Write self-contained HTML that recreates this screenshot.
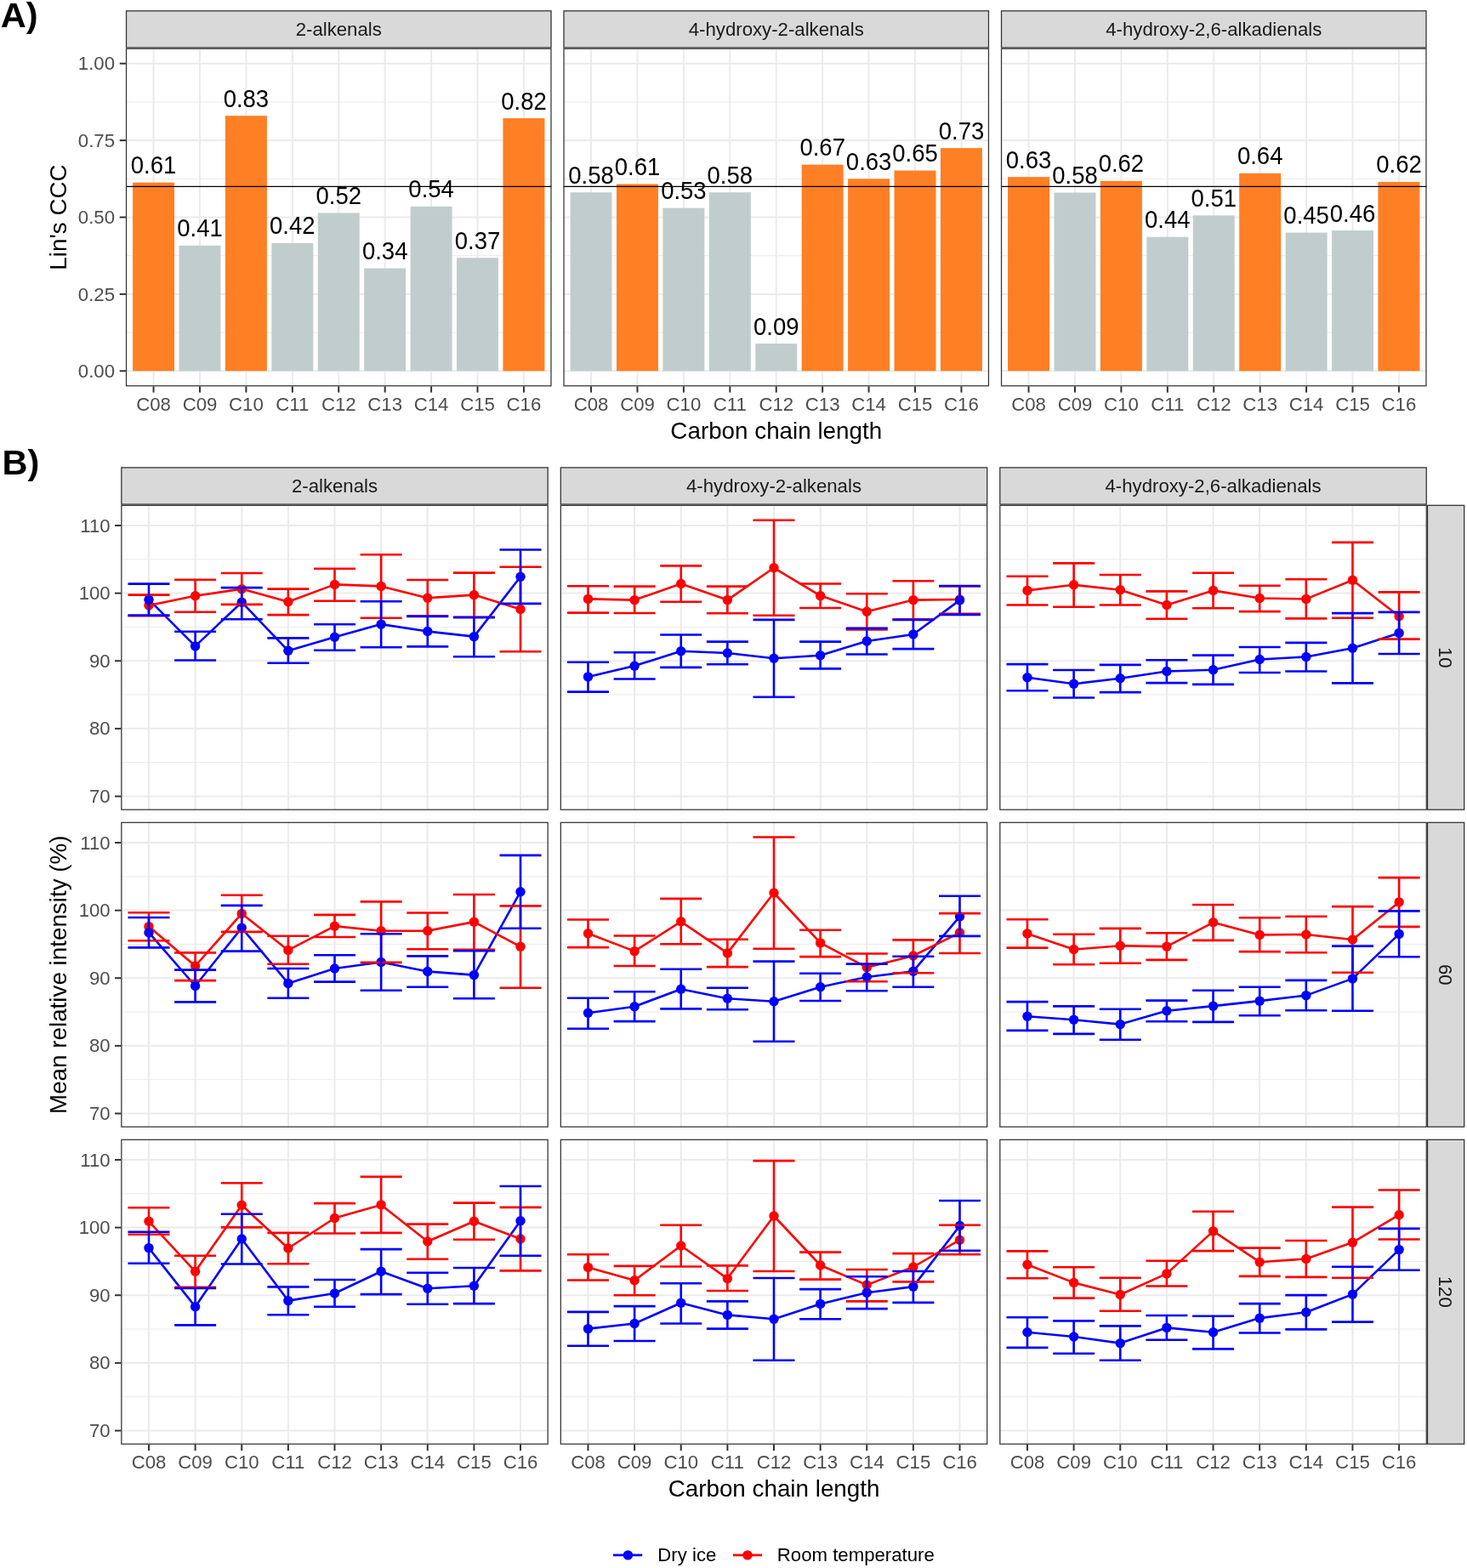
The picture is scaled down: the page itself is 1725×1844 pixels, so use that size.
<!DOCTYPE html>
<html><head><meta charset="utf-8"><title>Figure</title>
<style>html,body{margin:0;padding:0;background:#fff;}body{width:1725px;height:1844px;overflow:hidden;}svg{display:block;}</style>
</head><body>
<svg width="1725" height="1844" viewBox="0 0 1725 1844" font-family="'Liberation Sans', Arial, Helvetica, sans-serif"><rect x="0" y="0" width="1725" height="1844" fill="#FFFFFF"/><text transform="translate(0.80,31.70)" font-size="41.5" fill="#000" font-weight="bold">A)</text><line x1="147.9" x2="648.6" y1="391.10" y2="391.10" stroke="#EBEBEB" stroke-width="1.0"/><line x1="147.9" x2="648.6" y1="300.70" y2="300.70" stroke="#EBEBEB" stroke-width="1.0"/><line x1="147.9" x2="648.6" y1="210.30" y2="210.30" stroke="#EBEBEB" stroke-width="1.0"/><line x1="147.9" x2="648.6" y1="119.90" y2="119.90" stroke="#EBEBEB" stroke-width="1.0"/><line x1="147.9" x2="648.6" y1="436.30" y2="436.30" stroke="#EBEBEB" stroke-width="2.0"/><line x1="147.9" x2="648.6" y1="345.90" y2="345.90" stroke="#EBEBEB" stroke-width="2.0"/><line x1="147.9" x2="648.6" y1="255.50" y2="255.50" stroke="#EBEBEB" stroke-width="2.0"/><line x1="147.9" x2="648.6" y1="165.10" y2="165.10" stroke="#EBEBEB" stroke-width="2.0"/><line x1="147.9" x2="648.6" y1="74.70" y2="74.70" stroke="#EBEBEB" stroke-width="2.0"/><line x1="180.55" x2="180.55" y1="56.6" y2="454.4" stroke="#EBEBEB" stroke-width="2.0"/><line x1="234.98" x2="234.98" y1="56.6" y2="454.4" stroke="#EBEBEB" stroke-width="2.0"/><line x1="289.40" x2="289.40" y1="56.6" y2="454.4" stroke="#EBEBEB" stroke-width="2.0"/><line x1="343.83" x2="343.83" y1="56.6" y2="454.4" stroke="#EBEBEB" stroke-width="2.0"/><line x1="398.25" x2="398.25" y1="56.6" y2="454.4" stroke="#EBEBEB" stroke-width="2.0"/><line x1="452.67" x2="452.67" y1="56.6" y2="454.4" stroke="#EBEBEB" stroke-width="2.0"/><line x1="507.10" x2="507.10" y1="56.6" y2="454.4" stroke="#EBEBEB" stroke-width="2.0"/><line x1="561.52" x2="561.52" y1="56.6" y2="454.4" stroke="#EBEBEB" stroke-width="2.0"/><line x1="615.95" x2="615.95" y1="56.6" y2="454.4" stroke="#EBEBEB" stroke-width="2.0"/><rect x="156.06" y="214.64" width="48.98" height="221.66" fill="#FF7F24"/><rect x="210.49" y="288.77" width="48.98" height="147.53" fill="#C1CDCD"/><rect x="264.91" y="136.17" width="48.98" height="300.13" fill="#FF7F24"/><rect x="319.34" y="285.87" width="48.98" height="150.43" fill="#C1CDCD"/><rect x="373.76" y="250.44" width="48.98" height="185.86" fill="#C1CDCD"/><rect x="428.18" y="315.53" width="48.98" height="120.77" fill="#C1CDCD"/><rect x="482.61" y="242.84" width="48.98" height="193.46" fill="#C1CDCD"/><rect x="537.03" y="303.23" width="48.98" height="133.07" fill="#C1CDCD"/><rect x="591.45" y="139.06" width="48.98" height="297.24" fill="#FF7F24"/><line x1="147.9" x2="648.6" y1="219.34" y2="219.34" stroke="#000" stroke-width="1.1"/><text transform="translate(180.55,204.14) scale(1,1.06)" font-size="27.5" text-anchor="middle" fill="#000">0.61</text><text transform="translate(234.98,278.27) scale(1,1.06)" font-size="27.5" text-anchor="middle" fill="#000">0.41</text><text transform="translate(289.40,125.67) scale(1,1.06)" font-size="27.5" text-anchor="middle" fill="#000">0.83</text><text transform="translate(343.83,275.37) scale(1,1.06)" font-size="27.5" text-anchor="middle" fill="#000">0.42</text><text transform="translate(398.25,239.94) scale(1,1.06)" font-size="27.5" text-anchor="middle" fill="#000">0.52</text><text transform="translate(452.67,305.03) scale(1,1.06)" font-size="27.5" text-anchor="middle" fill="#000">0.34</text><text transform="translate(507.10,232.34) scale(1,1.06)" font-size="27.5" text-anchor="middle" fill="#000">0.54</text><text transform="translate(561.52,292.73) scale(1,1.06)" font-size="27.5" text-anchor="middle" fill="#000">0.37</text><text transform="translate(615.95,128.56) scale(1,1.06)" font-size="27.5" text-anchor="middle" fill="#000">0.82</text><rect x="148.53" y="57.23" width="499.45" height="396.55" fill="none" stroke="#333333" stroke-width="1.25"/><rect x="147.90" y="12.20" width="500.70" height="44.40" fill="#D9D9D9"/><rect x="148.53" y="12.82" width="499.45" height="43.15" fill="none" stroke="#333333" stroke-width="1.25"/><text transform="translate(398.25,41.80)" font-size="22.2" text-anchor="middle" fill="#1A1A1A">2-alkenals</text><line x1="180.55" x2="180.55" y1="454.40" y2="461.60" stroke="#333333" stroke-width="2.0"/><text transform="translate(180.55,482.70) scale(1,1.03)" font-size="22.2" text-anchor="middle" fill="#4D4D4D">C08</text><line x1="234.98" x2="234.98" y1="454.40" y2="461.60" stroke="#333333" stroke-width="2.0"/><text transform="translate(234.98,482.70) scale(1,1.03)" font-size="22.2" text-anchor="middle" fill="#4D4D4D">C09</text><line x1="289.40" x2="289.40" y1="454.40" y2="461.60" stroke="#333333" stroke-width="2.0"/><text transform="translate(289.40,482.70) scale(1,1.03)" font-size="22.2" text-anchor="middle" fill="#4D4D4D">C10</text><line x1="343.83" x2="343.83" y1="454.40" y2="461.60" stroke="#333333" stroke-width="2.0"/><text transform="translate(343.83,482.70) scale(1,1.03)" font-size="22.2" text-anchor="middle" fill="#4D4D4D">C11</text><line x1="398.25" x2="398.25" y1="454.40" y2="461.60" stroke="#333333" stroke-width="2.0"/><text transform="translate(398.25,482.70) scale(1,1.03)" font-size="22.2" text-anchor="middle" fill="#4D4D4D">C12</text><line x1="452.67" x2="452.67" y1="454.40" y2="461.60" stroke="#333333" stroke-width="2.0"/><text transform="translate(452.67,482.70) scale(1,1.03)" font-size="22.2" text-anchor="middle" fill="#4D4D4D">C13</text><line x1="507.10" x2="507.10" y1="454.40" y2="461.60" stroke="#333333" stroke-width="2.0"/><text transform="translate(507.10,482.70) scale(1,1.03)" font-size="22.2" text-anchor="middle" fill="#4D4D4D">C14</text><line x1="561.52" x2="561.52" y1="454.40" y2="461.60" stroke="#333333" stroke-width="2.0"/><text transform="translate(561.52,482.70) scale(1,1.03)" font-size="22.2" text-anchor="middle" fill="#4D4D4D">C15</text><line x1="615.95" x2="615.95" y1="454.40" y2="461.60" stroke="#333333" stroke-width="2.0"/><text transform="translate(615.95,482.70) scale(1,1.03)" font-size="22.2" text-anchor="middle" fill="#4D4D4D">C16</text><line x1="662.4" x2="1163.1" y1="391.10" y2="391.10" stroke="#EBEBEB" stroke-width="1.0"/><line x1="662.4" x2="1163.1" y1="300.70" y2="300.70" stroke="#EBEBEB" stroke-width="1.0"/><line x1="662.4" x2="1163.1" y1="210.30" y2="210.30" stroke="#EBEBEB" stroke-width="1.0"/><line x1="662.4" x2="1163.1" y1="119.90" y2="119.90" stroke="#EBEBEB" stroke-width="1.0"/><line x1="662.4" x2="1163.1" y1="436.30" y2="436.30" stroke="#EBEBEB" stroke-width="2.0"/><line x1="662.4" x2="1163.1" y1="345.90" y2="345.90" stroke="#EBEBEB" stroke-width="2.0"/><line x1="662.4" x2="1163.1" y1="255.50" y2="255.50" stroke="#EBEBEB" stroke-width="2.0"/><line x1="662.4" x2="1163.1" y1="165.10" y2="165.10" stroke="#EBEBEB" stroke-width="2.0"/><line x1="662.4" x2="1163.1" y1="74.70" y2="74.70" stroke="#EBEBEB" stroke-width="2.0"/><line x1="695.05" x2="695.05" y1="56.6" y2="454.4" stroke="#EBEBEB" stroke-width="2.0"/><line x1="749.48" x2="749.48" y1="56.6" y2="454.4" stroke="#EBEBEB" stroke-width="2.0"/><line x1="803.90" x2="803.90" y1="56.6" y2="454.4" stroke="#EBEBEB" stroke-width="2.0"/><line x1="858.33" x2="858.33" y1="56.6" y2="454.4" stroke="#EBEBEB" stroke-width="2.0"/><line x1="912.75" x2="912.75" y1="56.6" y2="454.4" stroke="#EBEBEB" stroke-width="2.0"/><line x1="967.17" x2="967.17" y1="56.6" y2="454.4" stroke="#EBEBEB" stroke-width="2.0"/><line x1="1021.60" x2="1021.60" y1="56.6" y2="454.4" stroke="#EBEBEB" stroke-width="2.0"/><line x1="1076.02" x2="1076.02" y1="56.6" y2="454.4" stroke="#EBEBEB" stroke-width="2.0"/><line x1="1130.45" x2="1130.45" y1="56.6" y2="454.4" stroke="#EBEBEB" stroke-width="2.0"/><rect x="670.56" y="226.21" width="48.98" height="210.09" fill="#C1CDCD"/><rect x="724.99" y="216.45" width="48.98" height="219.85" fill="#FF7F24"/><rect x="779.41" y="244.65" width="48.98" height="191.65" fill="#C1CDCD"/><rect x="833.84" y="226.21" width="48.98" height="210.09" fill="#C1CDCD"/><rect x="888.26" y="404.12" width="48.98" height="32.18" fill="#C1CDCD"/><rect x="942.68" y="193.67" width="48.98" height="242.63" fill="#FF7F24"/><rect x="997.11" y="210.30" width="48.98" height="226.00" fill="#FF7F24"/><rect x="1051.53" y="200.54" width="48.98" height="235.76" fill="#FF7F24"/><rect x="1105.95" y="174.14" width="48.98" height="262.16" fill="#FF7F24"/><line x1="662.4" x2="1163.1" y1="219.34" y2="219.34" stroke="#000" stroke-width="1.1"/><text transform="translate(695.05,215.71) scale(1,1.06)" font-size="27.5" text-anchor="middle" fill="#000">0.58</text><text transform="translate(749.48,205.95) scale(1,1.06)" font-size="27.5" text-anchor="middle" fill="#000">0.61</text><text transform="translate(803.90,234.15) scale(1,1.06)" font-size="27.5" text-anchor="middle" fill="#000">0.53</text><text transform="translate(858.33,215.71) scale(1,1.06)" font-size="27.5" text-anchor="middle" fill="#000">0.58</text><text transform="translate(912.75,393.62) scale(1,1.06)" font-size="27.5" text-anchor="middle" fill="#000">0.09</text><text transform="translate(967.17,183.17) scale(1,1.06)" font-size="27.5" text-anchor="middle" fill="#000">0.67</text><text transform="translate(1021.60,199.80) scale(1,1.06)" font-size="27.5" text-anchor="middle" fill="#000">0.63</text><text transform="translate(1076.02,190.04) scale(1,1.06)" font-size="27.5" text-anchor="middle" fill="#000">0.65</text><text transform="translate(1130.45,163.64) scale(1,1.06)" font-size="27.5" text-anchor="middle" fill="#000">0.73</text><rect x="663.02" y="57.23" width="499.45" height="396.55" fill="none" stroke="#333333" stroke-width="1.25"/><rect x="662.40" y="12.20" width="500.70" height="44.40" fill="#D9D9D9"/><rect x="663.02" y="12.82" width="499.45" height="43.15" fill="none" stroke="#333333" stroke-width="1.25"/><text transform="translate(912.75,41.80)" font-size="22.2" text-anchor="middle" fill="#1A1A1A">4-hydroxy-2-alkenals</text><line x1="695.05" x2="695.05" y1="454.40" y2="461.60" stroke="#333333" stroke-width="2.0"/><text transform="translate(695.05,482.70) scale(1,1.03)" font-size="22.2" text-anchor="middle" fill="#4D4D4D">C08</text><line x1="749.48" x2="749.48" y1="454.40" y2="461.60" stroke="#333333" stroke-width="2.0"/><text transform="translate(749.48,482.70) scale(1,1.03)" font-size="22.2" text-anchor="middle" fill="#4D4D4D">C09</text><line x1="803.90" x2="803.90" y1="454.40" y2="461.60" stroke="#333333" stroke-width="2.0"/><text transform="translate(803.90,482.70) scale(1,1.03)" font-size="22.2" text-anchor="middle" fill="#4D4D4D">C10</text><line x1="858.33" x2="858.33" y1="454.40" y2="461.60" stroke="#333333" stroke-width="2.0"/><text transform="translate(858.33,482.70) scale(1,1.03)" font-size="22.2" text-anchor="middle" fill="#4D4D4D">C11</text><line x1="912.75" x2="912.75" y1="454.40" y2="461.60" stroke="#333333" stroke-width="2.0"/><text transform="translate(912.75,482.70) scale(1,1.03)" font-size="22.2" text-anchor="middle" fill="#4D4D4D">C12</text><line x1="967.17" x2="967.17" y1="454.40" y2="461.60" stroke="#333333" stroke-width="2.0"/><text transform="translate(967.17,482.70) scale(1,1.03)" font-size="22.2" text-anchor="middle" fill="#4D4D4D">C13</text><line x1="1021.60" x2="1021.60" y1="454.40" y2="461.60" stroke="#333333" stroke-width="2.0"/><text transform="translate(1021.60,482.70) scale(1,1.03)" font-size="22.2" text-anchor="middle" fill="#4D4D4D">C14</text><line x1="1076.02" x2="1076.02" y1="454.40" y2="461.60" stroke="#333333" stroke-width="2.0"/><text transform="translate(1076.02,482.70) scale(1,1.03)" font-size="22.2" text-anchor="middle" fill="#4D4D4D">C15</text><line x1="1130.45" x2="1130.45" y1="454.40" y2="461.60" stroke="#333333" stroke-width="2.0"/><text transform="translate(1130.45,482.70) scale(1,1.03)" font-size="22.2" text-anchor="middle" fill="#4D4D4D">C16</text><line x1="1176.9" x2="1677.6" y1="391.10" y2="391.10" stroke="#EBEBEB" stroke-width="1.0"/><line x1="1176.9" x2="1677.6" y1="300.70" y2="300.70" stroke="#EBEBEB" stroke-width="1.0"/><line x1="1176.9" x2="1677.6" y1="210.30" y2="210.30" stroke="#EBEBEB" stroke-width="1.0"/><line x1="1176.9" x2="1677.6" y1="119.90" y2="119.90" stroke="#EBEBEB" stroke-width="1.0"/><line x1="1176.9" x2="1677.6" y1="436.30" y2="436.30" stroke="#EBEBEB" stroke-width="2.0"/><line x1="1176.9" x2="1677.6" y1="345.90" y2="345.90" stroke="#EBEBEB" stroke-width="2.0"/><line x1="1176.9" x2="1677.6" y1="255.50" y2="255.50" stroke="#EBEBEB" stroke-width="2.0"/><line x1="1176.9" x2="1677.6" y1="165.10" y2="165.10" stroke="#EBEBEB" stroke-width="2.0"/><line x1="1176.9" x2="1677.6" y1="74.70" y2="74.70" stroke="#EBEBEB" stroke-width="2.0"/><line x1="1209.55" x2="1209.55" y1="56.6" y2="454.4" stroke="#EBEBEB" stroke-width="2.0"/><line x1="1263.98" x2="1263.98" y1="56.6" y2="454.4" stroke="#EBEBEB" stroke-width="2.0"/><line x1="1318.40" x2="1318.40" y1="56.6" y2="454.4" stroke="#EBEBEB" stroke-width="2.0"/><line x1="1372.83" x2="1372.83" y1="56.6" y2="454.4" stroke="#EBEBEB" stroke-width="2.0"/><line x1="1427.25" x2="1427.25" y1="56.6" y2="454.4" stroke="#EBEBEB" stroke-width="2.0"/><line x1="1481.67" x2="1481.67" y1="56.6" y2="454.4" stroke="#EBEBEB" stroke-width="2.0"/><line x1="1536.10" x2="1536.10" y1="56.6" y2="454.4" stroke="#EBEBEB" stroke-width="2.0"/><line x1="1590.52" x2="1590.52" y1="56.6" y2="454.4" stroke="#EBEBEB" stroke-width="2.0"/><line x1="1644.95" x2="1644.95" y1="56.6" y2="454.4" stroke="#EBEBEB" stroke-width="2.0"/><rect x="1185.06" y="208.13" width="48.98" height="228.17" fill="#FF7F24"/><rect x="1239.49" y="226.57" width="48.98" height="209.73" fill="#C1CDCD"/><rect x="1293.91" y="212.83" width="48.98" height="223.47" fill="#FF7F24"/><rect x="1348.34" y="278.64" width="48.98" height="157.66" fill="#C1CDCD"/><rect x="1402.76" y="253.33" width="48.98" height="182.97" fill="#C1CDCD"/><rect x="1457.18" y="203.79" width="48.98" height="232.51" fill="#FF7F24"/><rect x="1511.61" y="273.58" width="48.98" height="162.72" fill="#C1CDCD"/><rect x="1566.03" y="271.05" width="48.98" height="165.25" fill="#C1CDCD"/><rect x="1620.45" y="213.92" width="48.98" height="222.38" fill="#FF7F24"/><line x1="1176.9" x2="1677.6" y1="219.34" y2="219.34" stroke="#000" stroke-width="1.1"/><text transform="translate(1209.55,197.63) scale(1,1.06)" font-size="27.5" text-anchor="middle" fill="#000">0.63</text><text transform="translate(1263.98,216.07) scale(1,1.06)" font-size="27.5" text-anchor="middle" fill="#000">0.58</text><text transform="translate(1318.40,202.33) scale(1,1.06)" font-size="27.5" text-anchor="middle" fill="#000">0.62</text><text transform="translate(1372.83,268.14) scale(1,1.06)" font-size="27.5" text-anchor="middle" fill="#000">0.44</text><text transform="translate(1427.25,242.83) scale(1,1.06)" font-size="27.5" text-anchor="middle" fill="#000">0.51</text><text transform="translate(1481.67,193.29) scale(1,1.06)" font-size="27.5" text-anchor="middle" fill="#000">0.64</text><text transform="translate(1536.10,263.08) scale(1,1.06)" font-size="27.5" text-anchor="middle" fill="#000">0.45</text><text transform="translate(1590.52,260.55) scale(1,1.06)" font-size="27.5" text-anchor="middle" fill="#000">0.46</text><text transform="translate(1644.95,203.42) scale(1,1.06)" font-size="27.5" text-anchor="middle" fill="#000">0.62</text><rect x="1177.53" y="57.23" width="499.45" height="396.55" fill="none" stroke="#333333" stroke-width="1.25"/><rect x="1176.90" y="12.20" width="500.70" height="44.40" fill="#D9D9D9"/><rect x="1177.53" y="12.82" width="499.45" height="43.15" fill="none" stroke="#333333" stroke-width="1.25"/><text transform="translate(1427.25,41.80)" font-size="22.2" text-anchor="middle" fill="#1A1A1A">4-hydroxy-2,6-alkadienals</text><line x1="1209.55" x2="1209.55" y1="454.40" y2="461.60" stroke="#333333" stroke-width="2.0"/><text transform="translate(1209.55,482.70) scale(1,1.03)" font-size="22.2" text-anchor="middle" fill="#4D4D4D">C08</text><line x1="1263.98" x2="1263.98" y1="454.40" y2="461.60" stroke="#333333" stroke-width="2.0"/><text transform="translate(1263.98,482.70) scale(1,1.03)" font-size="22.2" text-anchor="middle" fill="#4D4D4D">C09</text><line x1="1318.40" x2="1318.40" y1="454.40" y2="461.60" stroke="#333333" stroke-width="2.0"/><text transform="translate(1318.40,482.70) scale(1,1.03)" font-size="22.2" text-anchor="middle" fill="#4D4D4D">C10</text><line x1="1372.83" x2="1372.83" y1="454.40" y2="461.60" stroke="#333333" stroke-width="2.0"/><text transform="translate(1372.83,482.70) scale(1,1.03)" font-size="22.2" text-anchor="middle" fill="#4D4D4D">C11</text><line x1="1427.25" x2="1427.25" y1="454.40" y2="461.60" stroke="#333333" stroke-width="2.0"/><text transform="translate(1427.25,482.70) scale(1,1.03)" font-size="22.2" text-anchor="middle" fill="#4D4D4D">C12</text><line x1="1481.67" x2="1481.67" y1="454.40" y2="461.60" stroke="#333333" stroke-width="2.0"/><text transform="translate(1481.67,482.70) scale(1,1.03)" font-size="22.2" text-anchor="middle" fill="#4D4D4D">C13</text><line x1="1536.10" x2="1536.10" y1="454.40" y2="461.60" stroke="#333333" stroke-width="2.0"/><text transform="translate(1536.10,482.70) scale(1,1.03)" font-size="22.2" text-anchor="middle" fill="#4D4D4D">C14</text><line x1="1590.52" x2="1590.52" y1="454.40" y2="461.60" stroke="#333333" stroke-width="2.0"/><text transform="translate(1590.52,482.70) scale(1,1.03)" font-size="22.2" text-anchor="middle" fill="#4D4D4D">C15</text><line x1="1644.95" x2="1644.95" y1="454.40" y2="461.60" stroke="#333333" stroke-width="2.0"/><text transform="translate(1644.95,482.70) scale(1,1.03)" font-size="22.2" text-anchor="middle" fill="#4D4D4D">C16</text><line x1="140.70" x2="147.90" y1="436.30" y2="436.30" stroke="#333333" stroke-width="2.0"/><text transform="translate(135.00,443.90)" font-size="22.2" text-anchor="end" fill="#4D4D4D">0.00</text><line x1="140.70" x2="147.90" y1="345.90" y2="345.90" stroke="#333333" stroke-width="2.0"/><text transform="translate(135.00,353.50)" font-size="22.2" text-anchor="end" fill="#4D4D4D">0.25</text><line x1="140.70" x2="147.90" y1="255.50" y2="255.50" stroke="#333333" stroke-width="2.0"/><text transform="translate(135.00,263.10)" font-size="22.2" text-anchor="end" fill="#4D4D4D">0.50</text><line x1="140.70" x2="147.90" y1="165.10" y2="165.10" stroke="#333333" stroke-width="2.0"/><text transform="translate(135.00,172.70)" font-size="22.2" text-anchor="end" fill="#4D4D4D">0.75</text><line x1="140.70" x2="147.90" y1="74.70" y2="74.70" stroke="#333333" stroke-width="2.0"/><text transform="translate(135.00,82.30)" font-size="22.2" text-anchor="end" fill="#4D4D4D">1.00</text><text transform="translate(78.10,255.50) rotate(-90)" font-size="27.8" text-anchor="middle" fill="#000">Lin's CCC</text><text transform="translate(912.75,515.80)" font-size="27.8" text-anchor="middle" fill="#000">Carbon chain length</text><text transform="translate(2.50,558.30)" font-size="41.5" fill="#000" font-weight="bold">B)</text><line x1="142.2" x2="644.8" y1="896.68" y2="896.68" stroke="#EBEBEB" stroke-width="1.0"/><line x1="142.2" x2="644.8" y1="817.05" y2="817.05" stroke="#EBEBEB" stroke-width="1.0"/><line x1="142.2" x2="644.8" y1="737.43" y2="737.43" stroke="#EBEBEB" stroke-width="1.0"/><line x1="142.2" x2="644.8" y1="657.80" y2="657.80" stroke="#EBEBEB" stroke-width="1.0"/><line x1="142.2" x2="644.8" y1="936.49" y2="936.49" stroke="#EBEBEB" stroke-width="2.0"/><line x1="142.2" x2="644.8" y1="856.87" y2="856.87" stroke="#EBEBEB" stroke-width="2.0"/><line x1="142.2" x2="644.8" y1="777.24" y2="777.24" stroke="#EBEBEB" stroke-width="2.0"/><line x1="142.2" x2="644.8" y1="697.62" y2="697.62" stroke="#EBEBEB" stroke-width="2.0"/><line x1="142.2" x2="644.8" y1="617.99" y2="617.99" stroke="#EBEBEB" stroke-width="2.0"/><line x1="174.98" x2="174.98" y1="593.7" y2="952.8" stroke="#EBEBEB" stroke-width="2.0"/><line x1="229.61" x2="229.61" y1="593.7" y2="952.8" stroke="#EBEBEB" stroke-width="2.0"/><line x1="284.24" x2="284.24" y1="593.7" y2="952.8" stroke="#EBEBEB" stroke-width="2.0"/><line x1="338.87" x2="338.87" y1="593.7" y2="952.8" stroke="#EBEBEB" stroke-width="2.0"/><line x1="393.50" x2="393.50" y1="593.7" y2="952.8" stroke="#EBEBEB" stroke-width="2.0"/><line x1="448.13" x2="448.13" y1="593.7" y2="952.8" stroke="#EBEBEB" stroke-width="2.0"/><line x1="502.76" x2="502.76" y1="593.7" y2="952.8" stroke="#EBEBEB" stroke-width="2.0"/><line x1="557.39" x2="557.39" y1="593.7" y2="952.8" stroke="#EBEBEB" stroke-width="2.0"/><line x1="612.02" x2="612.02" y1="593.7" y2="952.8" stroke="#EBEBEB" stroke-width="2.0"/><polyline points="174.98,705.20 229.61,759.90 284.24,708.20 338.87,765.30 393.50,749.20 448.13,734.10 502.76,742.50 557.39,748.60 612.02,678.20" fill="none" stroke="#0000FF" stroke-width="2.6" stroke-linejoin="round"/><polyline points="174.98,711.90 229.61,700.80 284.24,692.60 338.87,707.80 393.50,687.40 448.13,689.40 502.76,703.20 557.39,699.60 612.02,716.50" fill="none" stroke="#FF0000" stroke-width="2.6" stroke-linejoin="round"/><circle cx="174.98" cy="711.90" r="5.7" fill="#FF0000"/><circle cx="229.61" cy="700.80" r="5.7" fill="#FF0000"/><circle cx="284.24" cy="692.60" r="5.7" fill="#FF0000"/><circle cx="338.87" cy="707.80" r="5.7" fill="#FF0000"/><circle cx="393.50" cy="687.40" r="5.7" fill="#FF0000"/><circle cx="448.13" cy="689.40" r="5.7" fill="#FF0000"/><circle cx="502.76" cy="703.20" r="5.7" fill="#FF0000"/><circle cx="557.39" cy="699.60" r="5.7" fill="#FF0000"/><circle cx="612.02" cy="716.50" r="5.7" fill="#FF0000"/><circle cx="174.98" cy="705.20" r="5.7" fill="#0000FF"/><circle cx="229.61" cy="759.90" r="5.7" fill="#0000FF"/><circle cx="284.24" cy="708.20" r="5.7" fill="#0000FF"/><circle cx="338.87" cy="765.30" r="5.7" fill="#0000FF"/><circle cx="393.50" cy="749.20" r="5.7" fill="#0000FF"/><circle cx="448.13" cy="734.10" r="5.7" fill="#0000FF"/><circle cx="502.76" cy="742.50" r="5.7" fill="#0000FF"/><circle cx="557.39" cy="748.60" r="5.7" fill="#0000FF"/><circle cx="612.02" cy="678.20" r="5.7" fill="#0000FF"/><path d="M150.48 699.60H199.48M174.98 699.60V724.20M150.48 724.20H199.48M205.11 681.80H254.11M229.61 681.80V719.80M205.11 719.80H254.11M259.74 674.00H308.74M284.24 674.00V710.90M259.74 710.90H308.74M314.37 692.60H363.37M338.87 692.60V723.10M314.37 723.10H363.37M369.00 668.70H418.00M393.50 668.70V706.70M369.00 706.70H418.00M423.63 652.20H472.63M448.13 652.20V726.70M423.63 726.70H472.63M478.26 682.00H527.26M502.76 682.00V724.40M478.26 724.40H527.26M532.89 673.60H581.89M557.39 673.60V725.70M532.89 725.70H581.89M587.52 666.70H636.52M612.02 666.70V766.20M587.52 766.20H636.52" fill="none" stroke="#FF0000" stroke-width="2.6"/><path d="M150.48 686.60H199.48M174.98 686.60V723.60M150.48 723.60H199.48M205.11 742.80H254.11M229.61 742.80V776.50M205.11 776.50H254.11M259.74 691.10H308.74M284.24 691.10V728.30M259.74 728.30H308.74M314.37 750.40H363.37M338.87 750.40V779.70M314.37 779.70H363.37M369.00 734.30H418.00M393.50 734.30V764.80M369.00 764.80H418.00M423.63 707.30H472.63M448.13 707.30V761.30M423.63 761.30H472.63M478.26 724.90H527.26M502.76 724.90V760.40M478.26 760.40H527.26M532.89 726.10H581.89M557.39 726.10V772.30M532.89 772.30H581.89M587.52 646.50H636.52M612.02 646.50V709.90M587.52 709.90H636.52" fill="none" stroke="#0000FF" stroke-width="2.6"/><rect x="142.82" y="594.33" width="501.35" height="357.85" fill="none" stroke="#333333" stroke-width="1.25"/><rect x="142.20" y="549.30" width="502.60" height="44.40" fill="#D9D9D9"/><rect x="142.82" y="549.92" width="501.35" height="43.15" fill="none" stroke="#333333" stroke-width="1.25"/><text transform="translate(393.50,578.90)" font-size="22.2" text-anchor="middle" fill="#1A1A1A">2-alkenals</text><line x1="658.7" x2="1161.3" y1="896.68" y2="896.68" stroke="#EBEBEB" stroke-width="1.0"/><line x1="658.7" x2="1161.3" y1="817.05" y2="817.05" stroke="#EBEBEB" stroke-width="1.0"/><line x1="658.7" x2="1161.3" y1="737.43" y2="737.43" stroke="#EBEBEB" stroke-width="1.0"/><line x1="658.7" x2="1161.3" y1="657.80" y2="657.80" stroke="#EBEBEB" stroke-width="1.0"/><line x1="658.7" x2="1161.3" y1="936.49" y2="936.49" stroke="#EBEBEB" stroke-width="2.0"/><line x1="658.7" x2="1161.3" y1="856.87" y2="856.87" stroke="#EBEBEB" stroke-width="2.0"/><line x1="658.7" x2="1161.3" y1="777.24" y2="777.24" stroke="#EBEBEB" stroke-width="2.0"/><line x1="658.7" x2="1161.3" y1="697.62" y2="697.62" stroke="#EBEBEB" stroke-width="2.0"/><line x1="658.7" x2="1161.3" y1="617.99" y2="617.99" stroke="#EBEBEB" stroke-width="2.0"/><line x1="691.48" x2="691.48" y1="593.7" y2="952.8" stroke="#EBEBEB" stroke-width="2.0"/><line x1="746.11" x2="746.11" y1="593.7" y2="952.8" stroke="#EBEBEB" stroke-width="2.0"/><line x1="800.74" x2="800.74" y1="593.7" y2="952.8" stroke="#EBEBEB" stroke-width="2.0"/><line x1="855.37" x2="855.37" y1="593.7" y2="952.8" stroke="#EBEBEB" stroke-width="2.0"/><line x1="910.00" x2="910.00" y1="593.7" y2="952.8" stroke="#EBEBEB" stroke-width="2.0"/><line x1="964.63" x2="964.63" y1="593.7" y2="952.8" stroke="#EBEBEB" stroke-width="2.0"/><line x1="1019.26" x2="1019.26" y1="593.7" y2="952.8" stroke="#EBEBEB" stroke-width="2.0"/><line x1="1073.89" x2="1073.89" y1="593.7" y2="952.8" stroke="#EBEBEB" stroke-width="2.0"/><line x1="1128.52" x2="1128.52" y1="593.7" y2="952.8" stroke="#EBEBEB" stroke-width="2.0"/><polyline points="691.48,795.90 746.11,783.10 800.74,765.70 855.37,768.00 910.00,774.30 964.63,770.70 1019.26,754.00 1073.89,746.00 1128.52,705.90" fill="none" stroke="#0000FF" stroke-width="2.6" stroke-linejoin="round"/><polyline points="691.48,704.40 746.11,705.60 800.74,686.50 855.37,705.60 910.00,667.80 964.63,700.60 1019.26,719.20 1073.89,705.60 1128.52,705.00" fill="none" stroke="#FF0000" stroke-width="2.6" stroke-linejoin="round"/><circle cx="691.48" cy="704.40" r="5.7" fill="#FF0000"/><circle cx="746.11" cy="705.60" r="5.7" fill="#FF0000"/><circle cx="800.74" cy="686.50" r="5.7" fill="#FF0000"/><circle cx="855.37" cy="705.60" r="5.7" fill="#FF0000"/><circle cx="910.00" cy="667.80" r="5.7" fill="#FF0000"/><circle cx="964.63" cy="700.60" r="5.7" fill="#FF0000"/><circle cx="1019.26" cy="719.20" r="5.7" fill="#FF0000"/><circle cx="1073.89" cy="705.60" r="5.7" fill="#FF0000"/><circle cx="1128.52" cy="705.00" r="5.7" fill="#FF0000"/><circle cx="691.48" cy="795.90" r="5.7" fill="#0000FF"/><circle cx="746.11" cy="783.10" r="5.7" fill="#0000FF"/><circle cx="800.74" cy="765.70" r="5.7" fill="#0000FF"/><circle cx="855.37" cy="768.00" r="5.7" fill="#0000FF"/><circle cx="910.00" cy="774.30" r="5.7" fill="#0000FF"/><circle cx="964.63" cy="770.70" r="5.7" fill="#0000FF"/><circle cx="1019.26" cy="754.00" r="5.7" fill="#0000FF"/><circle cx="1073.89" cy="746.00" r="5.7" fill="#0000FF"/><circle cx="1128.52" cy="705.90" r="5.7" fill="#0000FF"/><path d="M666.98 689.30H715.98M691.48 689.30V720.60M666.98 720.60H715.98M721.61 689.60H770.61M746.11 689.60V721.00M721.61 721.00H770.61M776.24 665.40H825.24M800.74 665.40V707.70M776.24 707.70H825.24M830.87 689.60H879.87M855.37 689.60V721.30M830.87 721.30H879.87M885.50 611.80H934.50M910.00 611.80V723.80M885.50 723.80H934.50M940.13 686.50H989.13M964.63 686.50V715.00M940.13 715.00H989.13M994.76 698.30H1043.76M1019.26 698.30V740.40M994.76 740.40H1043.76M1049.39 683.20H1098.39M1073.89 683.20V728.30M1049.39 728.30H1098.39M1104.02 689.50H1153.02M1128.52 689.50V721.80M1104.02 721.80H1153.02" fill="none" stroke="#FF0000" stroke-width="2.6"/><path d="M666.98 778.80H715.98M691.48 778.80V813.60M666.98 813.60H715.98M721.61 767.20H770.61M746.11 767.20V798.50M721.61 798.50H770.61M776.24 746.50H825.24M800.74 746.50V784.90M776.24 784.90H825.24M830.87 754.60H879.87M855.37 754.60V781.30M830.87 781.30H879.87M885.50 728.90H934.50M910.00 728.90V819.70M885.50 819.70H934.50M940.13 754.60H989.13M964.63 754.60V786.40M940.13 786.40H989.13M994.76 738.90H1043.76M1019.26 738.90V769.50M994.76 769.50H1043.76M1049.39 728.90H1098.39M1073.89 728.90V763.10M1049.39 763.10H1098.39M1104.02 689.00H1153.02M1128.52 689.00V722.90M1104.02 722.90H1153.02" fill="none" stroke="#0000FF" stroke-width="2.6"/><rect x="659.33" y="594.33" width="501.35" height="357.85" fill="none" stroke="#333333" stroke-width="1.25"/><rect x="658.70" y="549.30" width="502.60" height="44.40" fill="#D9D9D9"/><rect x="659.33" y="549.92" width="501.35" height="43.15" fill="none" stroke="#333333" stroke-width="1.25"/><text transform="translate(910.00,578.90)" font-size="22.2" text-anchor="middle" fill="#1A1A1A">4-hydroxy-2-alkenals</text><line x1="1175.2" x2="1677.9" y1="896.68" y2="896.68" stroke="#EBEBEB" stroke-width="1.0"/><line x1="1175.2" x2="1677.9" y1="817.05" y2="817.05" stroke="#EBEBEB" stroke-width="1.0"/><line x1="1175.2" x2="1677.9" y1="737.43" y2="737.43" stroke="#EBEBEB" stroke-width="1.0"/><line x1="1175.2" x2="1677.9" y1="657.80" y2="657.80" stroke="#EBEBEB" stroke-width="1.0"/><line x1="1175.2" x2="1677.9" y1="936.49" y2="936.49" stroke="#EBEBEB" stroke-width="2.0"/><line x1="1175.2" x2="1677.9" y1="856.87" y2="856.87" stroke="#EBEBEB" stroke-width="2.0"/><line x1="1175.2" x2="1677.9" y1="777.24" y2="777.24" stroke="#EBEBEB" stroke-width="2.0"/><line x1="1175.2" x2="1677.9" y1="697.62" y2="697.62" stroke="#EBEBEB" stroke-width="2.0"/><line x1="1175.2" x2="1677.9" y1="617.99" y2="617.99" stroke="#EBEBEB" stroke-width="2.0"/><line x1="1207.98" x2="1207.98" y1="593.7" y2="952.8" stroke="#EBEBEB" stroke-width="2.0"/><line x1="1262.63" x2="1262.63" y1="593.7" y2="952.8" stroke="#EBEBEB" stroke-width="2.0"/><line x1="1317.27" x2="1317.27" y1="593.7" y2="952.8" stroke="#EBEBEB" stroke-width="2.0"/><line x1="1371.91" x2="1371.91" y1="593.7" y2="952.8" stroke="#EBEBEB" stroke-width="2.0"/><line x1="1426.55" x2="1426.55" y1="593.7" y2="952.8" stroke="#EBEBEB" stroke-width="2.0"/><line x1="1481.19" x2="1481.19" y1="593.7" y2="952.8" stroke="#EBEBEB" stroke-width="2.0"/><line x1="1535.83" x2="1535.83" y1="593.7" y2="952.8" stroke="#EBEBEB" stroke-width="2.0"/><line x1="1590.47" x2="1590.47" y1="593.7" y2="952.8" stroke="#EBEBEB" stroke-width="2.0"/><line x1="1645.12" x2="1645.12" y1="593.7" y2="952.8" stroke="#EBEBEB" stroke-width="2.0"/><polyline points="1207.98,796.70 1262.63,804.30 1317.27,797.80 1371.91,789.50 1426.55,787.70 1481.19,775.50 1535.83,772.50 1590.47,762.20 1645.12,744.40" fill="none" stroke="#0000FF" stroke-width="2.6" stroke-linejoin="round"/><polyline points="1207.98,694.40 1262.63,687.80 1317.27,693.80 1371.91,711.50 1426.55,694.40 1481.19,703.50 1535.83,704.40 1590.47,682.30 1645.12,724.70" fill="none" stroke="#FF0000" stroke-width="2.6" stroke-linejoin="round"/><circle cx="1207.98" cy="694.40" r="5.7" fill="#FF0000"/><circle cx="1262.63" cy="687.80" r="5.7" fill="#FF0000"/><circle cx="1317.27" cy="693.80" r="5.7" fill="#FF0000"/><circle cx="1371.91" cy="711.50" r="5.7" fill="#FF0000"/><circle cx="1426.55" cy="694.40" r="5.7" fill="#FF0000"/><circle cx="1481.19" cy="703.50" r="5.7" fill="#FF0000"/><circle cx="1535.83" cy="704.40" r="5.7" fill="#FF0000"/><circle cx="1590.47" cy="682.30" r="5.7" fill="#FF0000"/><circle cx="1645.12" cy="724.70" r="5.7" fill="#FF0000"/><circle cx="1207.98" cy="796.70" r="5.7" fill="#0000FF"/><circle cx="1262.63" cy="804.30" r="5.7" fill="#0000FF"/><circle cx="1317.27" cy="797.80" r="5.7" fill="#0000FF"/><circle cx="1371.91" cy="789.50" r="5.7" fill="#0000FF"/><circle cx="1426.55" cy="787.70" r="5.7" fill="#0000FF"/><circle cx="1481.19" cy="775.50" r="5.7" fill="#0000FF"/><circle cx="1535.83" cy="772.50" r="5.7" fill="#0000FF"/><circle cx="1590.47" cy="762.20" r="5.7" fill="#0000FF"/><circle cx="1645.12" cy="744.40" r="5.7" fill="#0000FF"/><path d="M1183.48 677.80H1232.48M1207.98 677.80V711.50M1183.48 711.50H1232.48M1238.13 662.40H1287.13M1262.63 662.40V713.80M1238.13 713.80H1287.13M1292.77 676.00H1341.77M1317.27 676.00V711.50M1292.77 711.50H1341.77M1347.41 695.40H1396.41M1371.91 695.40V727.70M1347.41 727.70H1396.41M1402.05 673.70H1451.05M1426.55 673.70V715.30M1402.05 715.30H1451.05M1456.69 688.80H1505.69M1481.19 688.80V719.10M1456.69 719.10H1505.69M1511.33 681.30H1560.33M1535.83 681.30V727.40M1511.33 727.40H1560.33M1565.97 637.90H1614.97M1590.47 637.90V726.70M1565.97 726.70H1614.97M1620.62 696.40H1669.62M1645.12 696.40V751.60M1620.62 751.60H1669.62" fill="none" stroke="#FF0000" stroke-width="2.6"/><path d="M1183.48 781.10H1232.48M1207.98 781.10V812.20M1183.48 812.20H1232.48M1238.13 788.00H1287.13M1262.63 788.00V820.50M1238.13 820.50H1287.13M1292.77 781.90H1341.77M1317.27 781.90V814.10M1292.77 814.10H1341.77M1347.41 776.20H1396.41M1371.91 776.20V803.10M1347.41 803.10H1396.41M1402.05 770.60H1451.05M1426.55 770.60V804.90M1402.05 804.90H1451.05M1456.69 761.00H1505.69M1481.19 761.00V791.00M1456.69 791.00H1505.69M1511.33 755.90H1560.33M1535.83 755.90V789.50M1511.33 789.50H1560.33M1565.97 721.10H1614.97M1590.47 721.10V803.40M1565.97 803.40H1614.97M1620.62 719.90H1669.62M1645.12 719.90V769.00M1620.62 769.00H1669.62" fill="none" stroke="#0000FF" stroke-width="2.6"/><rect x="1175.83" y="594.33" width="501.45" height="357.85" fill="none" stroke="#333333" stroke-width="1.25"/><rect x="1175.20" y="549.30" width="502.70" height="44.40" fill="#D9D9D9"/><rect x="1175.83" y="549.92" width="501.45" height="43.15" fill="none" stroke="#333333" stroke-width="1.25"/><text transform="translate(1426.55,578.90)" font-size="22.2" text-anchor="middle" fill="#1A1A1A">4-hydroxy-2,6-alkadienals</text><rect x="1677.90" y="593.70" width="44.40" height="359.10" fill="#D9D9D9"/><rect x="1678.53" y="594.33" width="43.15" height="357.85" fill="none" stroke="#333333" stroke-width="1.25"/><text transform="translate(1692.20,773.25) rotate(90)" font-size="22.2" text-anchor="middle" fill="#1A1A1A">10</text><line x1="135.00" x2="142.20" y1="936.49" y2="936.49" stroke="#333333" stroke-width="2.0"/><text transform="translate(129.70,944.09)" font-size="22.2" text-anchor="end" fill="#4D4D4D">70</text><line x1="135.00" x2="142.20" y1="856.87" y2="856.87" stroke="#333333" stroke-width="2.0"/><text transform="translate(129.70,864.47)" font-size="22.2" text-anchor="end" fill="#4D4D4D">80</text><line x1="135.00" x2="142.20" y1="777.24" y2="777.24" stroke="#333333" stroke-width="2.0"/><text transform="translate(129.70,784.84)" font-size="22.2" text-anchor="end" fill="#4D4D4D">90</text><line x1="135.00" x2="142.20" y1="697.62" y2="697.62" stroke="#333333" stroke-width="2.0"/><text transform="translate(129.70,705.22)" font-size="22.2" text-anchor="end" fill="#4D4D4D">100</text><line x1="135.00" x2="142.20" y1="617.99" y2="617.99" stroke="#333333" stroke-width="2.0"/><text transform="translate(129.70,625.59)" font-size="22.2" text-anchor="end" fill="#4D4D4D">110</text><line x1="142.2" x2="644.8" y1="1269.68" y2="1269.68" stroke="#EBEBEB" stroke-width="1.0"/><line x1="142.2" x2="644.8" y1="1190.05" y2="1190.05" stroke="#EBEBEB" stroke-width="1.0"/><line x1="142.2" x2="644.8" y1="1110.43" y2="1110.43" stroke="#EBEBEB" stroke-width="1.0"/><line x1="142.2" x2="644.8" y1="1030.80" y2="1030.80" stroke="#EBEBEB" stroke-width="1.0"/><line x1="142.2" x2="644.8" y1="1309.49" y2="1309.49" stroke="#EBEBEB" stroke-width="2.0"/><line x1="142.2" x2="644.8" y1="1229.87" y2="1229.87" stroke="#EBEBEB" stroke-width="2.0"/><line x1="142.2" x2="644.8" y1="1150.24" y2="1150.24" stroke="#EBEBEB" stroke-width="2.0"/><line x1="142.2" x2="644.8" y1="1070.62" y2="1070.62" stroke="#EBEBEB" stroke-width="2.0"/><line x1="142.2" x2="644.8" y1="990.99" y2="990.99" stroke="#EBEBEB" stroke-width="2.0"/><line x1="174.98" x2="174.98" y1="966.7" y2="1325.8" stroke="#EBEBEB" stroke-width="2.0"/><line x1="229.61" x2="229.61" y1="966.7" y2="1325.8" stroke="#EBEBEB" stroke-width="2.0"/><line x1="284.24" x2="284.24" y1="966.7" y2="1325.8" stroke="#EBEBEB" stroke-width="2.0"/><line x1="338.87" x2="338.87" y1="966.7" y2="1325.8" stroke="#EBEBEB" stroke-width="2.0"/><line x1="393.50" x2="393.50" y1="966.7" y2="1325.8" stroke="#EBEBEB" stroke-width="2.0"/><line x1="448.13" x2="448.13" y1="966.7" y2="1325.8" stroke="#EBEBEB" stroke-width="2.0"/><line x1="502.76" x2="502.76" y1="966.7" y2="1325.8" stroke="#EBEBEB" stroke-width="2.0"/><line x1="557.39" x2="557.39" y1="966.7" y2="1325.8" stroke="#EBEBEB" stroke-width="2.0"/><line x1="612.02" x2="612.02" y1="966.7" y2="1325.8" stroke="#EBEBEB" stroke-width="2.0"/><polyline points="174.98,1096.70 229.61,1159.50 284.24,1091.10 338.87,1156.40 393.50,1139.00 448.13,1131.50 502.76,1142.50 557.39,1146.60 612.02,1048.70" fill="none" stroke="#0000FF" stroke-width="2.6" stroke-linejoin="round"/><polyline points="174.98,1089.60 229.61,1136.00 284.24,1074.40 338.87,1117.40 393.50,1089.10 448.13,1094.70 502.76,1094.70 557.39,1084.10 612.02,1113.30" fill="none" stroke="#FF0000" stroke-width="2.6" stroke-linejoin="round"/><circle cx="174.98" cy="1089.60" r="5.7" fill="#FF0000"/><circle cx="229.61" cy="1136.00" r="5.7" fill="#FF0000"/><circle cx="284.24" cy="1074.40" r="5.7" fill="#FF0000"/><circle cx="338.87" cy="1117.40" r="5.7" fill="#FF0000"/><circle cx="393.50" cy="1089.10" r="5.7" fill="#FF0000"/><circle cx="448.13" cy="1094.70" r="5.7" fill="#FF0000"/><circle cx="502.76" cy="1094.70" r="5.7" fill="#FF0000"/><circle cx="557.39" cy="1084.10" r="5.7" fill="#FF0000"/><circle cx="612.02" cy="1113.30" r="5.7" fill="#FF0000"/><circle cx="174.98" cy="1096.70" r="5.7" fill="#0000FF"/><circle cx="229.61" cy="1159.50" r="5.7" fill="#0000FF"/><circle cx="284.24" cy="1091.10" r="5.7" fill="#0000FF"/><circle cx="338.87" cy="1156.40" r="5.7" fill="#0000FF"/><circle cx="393.50" cy="1139.00" r="5.7" fill="#0000FF"/><circle cx="448.13" cy="1131.50" r="5.7" fill="#0000FF"/><circle cx="502.76" cy="1142.50" r="5.7" fill="#0000FF"/><circle cx="557.39" cy="1146.60" r="5.7" fill="#0000FF"/><circle cx="612.02" cy="1048.70" r="5.7" fill="#0000FF"/><path d="M150.48 1073.20H199.48M174.98 1073.20V1106.20M150.48 1106.20H199.48M205.11 1120.40H254.11M229.61 1120.40V1153.10M205.11 1153.10H254.11M259.74 1052.80H308.74M284.24 1052.80V1095.90M259.74 1095.90H308.74M314.37 1100.80H363.37M338.87 1100.80V1133.70M314.37 1133.70H363.37M369.00 1075.90H418.00M393.50 1075.90V1102.00M369.00 1102.00H418.00M423.63 1060.40H472.63M448.13 1060.40V1131.90M423.63 1131.90H472.63M478.26 1073.50H527.26M502.76 1073.50V1116.30M478.26 1116.30H527.26M532.89 1052.00H581.89M557.39 1052.00V1116.80M532.89 1116.80H581.89M587.52 1065.40H636.52M612.02 1065.40V1161.70M587.52 1161.70H636.52" fill="none" stroke="#FF0000" stroke-width="2.6"/><path d="M150.48 1079.00H199.48M174.98 1079.00V1114.40M150.48 1114.40H199.48M205.11 1140.60H254.11M229.61 1140.60V1178.40M205.11 1178.40H254.11M259.74 1064.90H308.74M284.24 1064.90V1118.60M259.74 1118.60H308.74M314.37 1139.00H363.37M338.87 1139.00V1173.80M314.37 1173.80H363.37M369.00 1123.20H418.00M393.50 1123.20V1154.60M369.00 1154.60H418.00M423.63 1098.20H472.63M448.13 1098.20V1164.80M423.63 1164.80H472.63M478.26 1124.40H527.26M502.76 1124.40V1160.70M478.26 1160.70H527.26M532.89 1118.30H581.89M557.39 1118.30V1174.30M532.89 1174.30H581.89M587.52 1005.90H636.52M612.02 1005.90V1091.70M587.52 1091.70H636.52" fill="none" stroke="#0000FF" stroke-width="2.6"/><rect x="142.82" y="967.33" width="501.35" height="357.85" fill="none" stroke="#333333" stroke-width="1.25"/><line x1="658.7" x2="1161.3" y1="1269.68" y2="1269.68" stroke="#EBEBEB" stroke-width="1.0"/><line x1="658.7" x2="1161.3" y1="1190.05" y2="1190.05" stroke="#EBEBEB" stroke-width="1.0"/><line x1="658.7" x2="1161.3" y1="1110.43" y2="1110.43" stroke="#EBEBEB" stroke-width="1.0"/><line x1="658.7" x2="1161.3" y1="1030.80" y2="1030.80" stroke="#EBEBEB" stroke-width="1.0"/><line x1="658.7" x2="1161.3" y1="1309.49" y2="1309.49" stroke="#EBEBEB" stroke-width="2.0"/><line x1="658.7" x2="1161.3" y1="1229.87" y2="1229.87" stroke="#EBEBEB" stroke-width="2.0"/><line x1="658.7" x2="1161.3" y1="1150.24" y2="1150.24" stroke="#EBEBEB" stroke-width="2.0"/><line x1="658.7" x2="1161.3" y1="1070.62" y2="1070.62" stroke="#EBEBEB" stroke-width="2.0"/><line x1="658.7" x2="1161.3" y1="990.99" y2="990.99" stroke="#EBEBEB" stroke-width="2.0"/><line x1="691.48" x2="691.48" y1="966.7" y2="1325.8" stroke="#EBEBEB" stroke-width="2.0"/><line x1="746.11" x2="746.11" y1="966.7" y2="1325.8" stroke="#EBEBEB" stroke-width="2.0"/><line x1="800.74" x2="800.74" y1="966.7" y2="1325.8" stroke="#EBEBEB" stroke-width="2.0"/><line x1="855.37" x2="855.37" y1="966.7" y2="1325.8" stroke="#EBEBEB" stroke-width="2.0"/><line x1="910.00" x2="910.00" y1="966.7" y2="1325.8" stroke="#EBEBEB" stroke-width="2.0"/><line x1="964.63" x2="964.63" y1="966.7" y2="1325.8" stroke="#EBEBEB" stroke-width="2.0"/><line x1="1019.26" x2="1019.26" y1="966.7" y2="1325.8" stroke="#EBEBEB" stroke-width="2.0"/><line x1="1073.89" x2="1073.89" y1="966.7" y2="1325.8" stroke="#EBEBEB" stroke-width="2.0"/><line x1="1128.52" x2="1128.52" y1="966.7" y2="1325.8" stroke="#EBEBEB" stroke-width="2.0"/><polyline points="691.48,1191.20 746.11,1183.70 800.74,1163.20 855.37,1174.30 910.00,1177.70 964.63,1160.80 1019.26,1149.00 1073.89,1142.20 1128.52,1077.90" fill="none" stroke="#0000FF" stroke-width="2.6" stroke-linejoin="round"/><polyline points="691.48,1097.70 746.11,1118.60 800.74,1083.80 855.37,1120.90 910.00,1050.00 964.63,1108.90 1019.26,1137.70 1073.89,1124.00 1128.52,1096.80" fill="none" stroke="#FF0000" stroke-width="2.6" stroke-linejoin="round"/><circle cx="691.48" cy="1097.70" r="5.7" fill="#FF0000"/><circle cx="746.11" cy="1118.60" r="5.7" fill="#FF0000"/><circle cx="800.74" cy="1083.80" r="5.7" fill="#FF0000"/><circle cx="855.37" cy="1120.90" r="5.7" fill="#FF0000"/><circle cx="910.00" cy="1050.00" r="5.7" fill="#FF0000"/><circle cx="964.63" cy="1108.90" r="5.7" fill="#FF0000"/><circle cx="1019.26" cy="1137.70" r="5.7" fill="#FF0000"/><circle cx="1073.89" cy="1124.00" r="5.7" fill="#FF0000"/><circle cx="1128.52" cy="1096.80" r="5.7" fill="#FF0000"/><circle cx="691.48" cy="1191.20" r="5.7" fill="#0000FF"/><circle cx="746.11" cy="1183.70" r="5.7" fill="#0000FF"/><circle cx="800.74" cy="1163.20" r="5.7" fill="#0000FF"/><circle cx="855.37" cy="1174.30" r="5.7" fill="#0000FF"/><circle cx="910.00" cy="1177.70" r="5.7" fill="#0000FF"/><circle cx="964.63" cy="1160.80" r="5.7" fill="#0000FF"/><circle cx="1019.26" cy="1149.00" r="5.7" fill="#0000FF"/><circle cx="1073.89" cy="1142.20" r="5.7" fill="#0000FF"/><circle cx="1128.52" cy="1077.90" r="5.7" fill="#0000FF"/><path d="M666.98 1081.50H715.98M691.48 1081.50V1114.10M666.98 1114.10H715.98M721.61 1100.50H770.61M746.11 1100.50V1136.00M721.61 1136.00H770.61M776.24 1056.90H825.24M800.74 1056.90V1110.30M776.24 1110.30H825.24M830.87 1104.70H879.87M855.37 1104.70V1137.10M830.87 1137.10H879.87M885.50 984.50H934.50M910.00 984.50V1115.80M885.50 1115.80H934.50M940.13 1093.80H989.13M964.63 1093.80V1125.10M940.13 1125.10H989.13M994.76 1121.50H1043.76M1019.26 1121.50V1154.30M994.76 1154.30H1043.76M1049.39 1105.40H1098.39M1073.89 1105.40V1144.20M1049.39 1144.20H1098.39M1104.02 1074.10H1153.02M1128.52 1074.10V1121.00M1104.02 1121.00H1153.02" fill="none" stroke="#FF0000" stroke-width="2.6"/><path d="M666.98 1173.80H715.98M691.48 1173.80V1209.70M666.98 1209.70H715.98M721.61 1166.30H770.61M746.11 1166.30V1201.10M721.61 1201.10H770.61M776.24 1139.80H825.24M800.74 1139.80V1186.40M776.24 1186.40H825.24M830.87 1161.70H879.87M855.37 1161.70V1187.20M830.87 1187.20H879.87M885.50 1130.60H934.50M910.00 1130.60V1224.80M885.50 1224.80H934.50M940.13 1144.80H989.13M964.63 1144.80V1177.00M940.13 1177.00H989.13M994.76 1133.60H1043.76M1019.26 1133.60V1165.30M994.76 1165.30H1043.76M1049.39 1124.80H1098.39M1073.89 1124.80V1160.80M1049.39 1160.80H1098.39M1104.02 1053.70H1153.02M1128.52 1053.70V1100.90M1104.02 1100.90H1153.02" fill="none" stroke="#0000FF" stroke-width="2.6"/><rect x="659.33" y="967.33" width="501.35" height="357.85" fill="none" stroke="#333333" stroke-width="1.25"/><line x1="1175.2" x2="1677.9" y1="1269.68" y2="1269.68" stroke="#EBEBEB" stroke-width="1.0"/><line x1="1175.2" x2="1677.9" y1="1190.05" y2="1190.05" stroke="#EBEBEB" stroke-width="1.0"/><line x1="1175.2" x2="1677.9" y1="1110.43" y2="1110.43" stroke="#EBEBEB" stroke-width="1.0"/><line x1="1175.2" x2="1677.9" y1="1030.80" y2="1030.80" stroke="#EBEBEB" stroke-width="1.0"/><line x1="1175.2" x2="1677.9" y1="1309.49" y2="1309.49" stroke="#EBEBEB" stroke-width="2.0"/><line x1="1175.2" x2="1677.9" y1="1229.87" y2="1229.87" stroke="#EBEBEB" stroke-width="2.0"/><line x1="1175.2" x2="1677.9" y1="1150.24" y2="1150.24" stroke="#EBEBEB" stroke-width="2.0"/><line x1="1175.2" x2="1677.9" y1="1070.62" y2="1070.62" stroke="#EBEBEB" stroke-width="2.0"/><line x1="1175.2" x2="1677.9" y1="990.99" y2="990.99" stroke="#EBEBEB" stroke-width="2.0"/><line x1="1207.98" x2="1207.98" y1="966.7" y2="1325.8" stroke="#EBEBEB" stroke-width="2.0"/><line x1="1262.63" x2="1262.63" y1="966.7" y2="1325.8" stroke="#EBEBEB" stroke-width="2.0"/><line x1="1317.27" x2="1317.27" y1="966.7" y2="1325.8" stroke="#EBEBEB" stroke-width="2.0"/><line x1="1371.91" x2="1371.91" y1="966.7" y2="1325.8" stroke="#EBEBEB" stroke-width="2.0"/><line x1="1426.55" x2="1426.55" y1="966.7" y2="1325.8" stroke="#EBEBEB" stroke-width="2.0"/><line x1="1481.19" x2="1481.19" y1="966.7" y2="1325.8" stroke="#EBEBEB" stroke-width="2.0"/><line x1="1535.83" x2="1535.83" y1="966.7" y2="1325.8" stroke="#EBEBEB" stroke-width="2.0"/><line x1="1590.47" x2="1590.47" y1="966.7" y2="1325.8" stroke="#EBEBEB" stroke-width="2.0"/><line x1="1645.12" x2="1645.12" y1="966.7" y2="1325.8" stroke="#EBEBEB" stroke-width="2.0"/><polyline points="1207.98,1195.20 1262.63,1199.30 1317.27,1204.60 1371.91,1188.70 1426.55,1183.10 1481.19,1177.10 1535.83,1170.60 1590.47,1150.90 1645.12,1098.40" fill="none" stroke="#0000FF" stroke-width="2.6" stroke-linejoin="round"/><polyline points="1207.98,1097.90 1262.63,1116.50 1317.27,1112.30 1371.91,1113.10 1426.55,1084.80 1481.19,1099.40 1535.83,1099.00 1590.47,1105.00 1645.12,1060.90" fill="none" stroke="#FF0000" stroke-width="2.6" stroke-linejoin="round"/><circle cx="1207.98" cy="1097.90" r="5.7" fill="#FF0000"/><circle cx="1262.63" cy="1116.50" r="5.7" fill="#FF0000"/><circle cx="1317.27" cy="1112.30" r="5.7" fill="#FF0000"/><circle cx="1371.91" cy="1113.10" r="5.7" fill="#FF0000"/><circle cx="1426.55" cy="1084.80" r="5.7" fill="#FF0000"/><circle cx="1481.19" cy="1099.40" r="5.7" fill="#FF0000"/><circle cx="1535.83" cy="1099.00" r="5.7" fill="#FF0000"/><circle cx="1590.47" cy="1105.00" r="5.7" fill="#FF0000"/><circle cx="1645.12" cy="1060.90" r="5.7" fill="#FF0000"/><circle cx="1207.98" cy="1195.20" r="5.7" fill="#0000FF"/><circle cx="1262.63" cy="1199.30" r="5.7" fill="#0000FF"/><circle cx="1317.27" cy="1204.60" r="5.7" fill="#0000FF"/><circle cx="1371.91" cy="1188.70" r="5.7" fill="#0000FF"/><circle cx="1426.55" cy="1183.10" r="5.7" fill="#0000FF"/><circle cx="1481.19" cy="1177.10" r="5.7" fill="#0000FF"/><circle cx="1535.83" cy="1170.60" r="5.7" fill="#0000FF"/><circle cx="1590.47" cy="1150.90" r="5.7" fill="#0000FF"/><circle cx="1645.12" cy="1098.40" r="5.7" fill="#0000FF"/><path d="M1183.48 1081.30H1232.48M1207.98 1081.30V1114.60M1183.48 1114.60H1232.48M1238.13 1098.70H1287.13M1262.63 1098.70V1134.20M1238.13 1134.20H1287.13M1292.77 1091.90H1341.77M1317.27 1091.90V1132.70M1292.77 1132.70H1341.77M1347.41 1097.20H1396.41M1371.91 1097.20V1128.90M1347.41 1128.90H1396.41M1402.05 1064.00H1451.05M1426.55 1064.00V1105.90M1402.05 1105.90H1451.05M1456.69 1079.30H1505.69M1481.19 1079.30V1119.10M1456.69 1119.10H1505.69M1511.33 1077.80H1560.33M1535.83 1077.80V1120.20M1511.33 1120.20H1560.33M1565.97 1066.10H1614.97M1590.47 1066.10V1143.80M1565.97 1143.80H1614.97M1620.62 1032.10H1669.62M1645.12 1032.10V1089.90M1620.62 1089.90H1669.62" fill="none" stroke="#FF0000" stroke-width="2.6"/><path d="M1183.48 1178.10H1232.48M1207.98 1178.10V1211.90M1183.48 1211.90H1232.48M1238.13 1183.40H1287.13M1262.63 1183.40V1215.90M1238.13 1215.90H1287.13M1292.77 1186.70H1341.77M1317.27 1186.70V1222.80M1292.77 1222.80H1341.77M1347.41 1176.60H1396.41M1371.91 1176.60V1201.30M1347.41 1201.30H1396.41M1402.05 1164.70H1451.05M1426.55 1164.70V1201.90M1402.05 1201.90H1451.05M1456.69 1160.70H1505.69M1481.19 1160.70V1194.30M1456.69 1194.30H1505.69M1511.33 1152.90H1560.33M1535.83 1152.90V1188.30M1511.33 1188.30H1560.33M1565.97 1112.60H1614.97M1590.47 1112.60V1188.70M1565.97 1188.70H1614.97M1620.62 1071.40H1669.62M1645.12 1071.40V1125.20M1620.62 1125.20H1669.62" fill="none" stroke="#0000FF" stroke-width="2.6"/><rect x="1175.83" y="967.33" width="501.45" height="357.85" fill="none" stroke="#333333" stroke-width="1.25"/><rect x="1677.90" y="966.70" width="44.40" height="359.10" fill="#D9D9D9"/><rect x="1678.53" y="967.33" width="43.15" height="357.85" fill="none" stroke="#333333" stroke-width="1.25"/><text transform="translate(1692.20,1146.25) rotate(90)" font-size="22.2" text-anchor="middle" fill="#1A1A1A">60</text><line x1="135.00" x2="142.20" y1="1309.49" y2="1309.49" stroke="#333333" stroke-width="2.0"/><text transform="translate(129.70,1317.09)" font-size="22.2" text-anchor="end" fill="#4D4D4D">70</text><line x1="135.00" x2="142.20" y1="1229.87" y2="1229.87" stroke="#333333" stroke-width="2.0"/><text transform="translate(129.70,1237.46)" font-size="22.2" text-anchor="end" fill="#4D4D4D">80</text><line x1="135.00" x2="142.20" y1="1150.24" y2="1150.24" stroke="#333333" stroke-width="2.0"/><text transform="translate(129.70,1157.84)" font-size="22.2" text-anchor="end" fill="#4D4D4D">90</text><line x1="135.00" x2="142.20" y1="1070.62" y2="1070.62" stroke="#333333" stroke-width="2.0"/><text transform="translate(129.70,1078.21)" font-size="22.2" text-anchor="end" fill="#4D4D4D">100</text><line x1="135.00" x2="142.20" y1="990.99" y2="990.99" stroke="#333333" stroke-width="2.0"/><text transform="translate(129.70,998.59)" font-size="22.2" text-anchor="end" fill="#4D4D4D">110</text><line x1="142.2" x2="644.8" y1="1642.68" y2="1642.68" stroke="#EBEBEB" stroke-width="1.0"/><line x1="142.2" x2="644.8" y1="1563.05" y2="1563.05" stroke="#EBEBEB" stroke-width="1.0"/><line x1="142.2" x2="644.8" y1="1483.43" y2="1483.43" stroke="#EBEBEB" stroke-width="1.0"/><line x1="142.2" x2="644.8" y1="1403.80" y2="1403.80" stroke="#EBEBEB" stroke-width="1.0"/><line x1="142.2" x2="644.8" y1="1682.49" y2="1682.49" stroke="#EBEBEB" stroke-width="2.0"/><line x1="142.2" x2="644.8" y1="1602.87" y2="1602.87" stroke="#EBEBEB" stroke-width="2.0"/><line x1="142.2" x2="644.8" y1="1523.24" y2="1523.24" stroke="#EBEBEB" stroke-width="2.0"/><line x1="142.2" x2="644.8" y1="1443.62" y2="1443.62" stroke="#EBEBEB" stroke-width="2.0"/><line x1="142.2" x2="644.8" y1="1363.99" y2="1363.99" stroke="#EBEBEB" stroke-width="2.0"/><line x1="174.98" x2="174.98" y1="1339.7" y2="1698.8" stroke="#EBEBEB" stroke-width="2.0"/><line x1="229.61" x2="229.61" y1="1339.7" y2="1698.8" stroke="#EBEBEB" stroke-width="2.0"/><line x1="284.24" x2="284.24" y1="1339.7" y2="1698.8" stroke="#EBEBEB" stroke-width="2.0"/><line x1="338.87" x2="338.87" y1="1339.7" y2="1698.8" stroke="#EBEBEB" stroke-width="2.0"/><line x1="393.50" x2="393.50" y1="1339.7" y2="1698.8" stroke="#EBEBEB" stroke-width="2.0"/><line x1="448.13" x2="448.13" y1="1339.7" y2="1698.8" stroke="#EBEBEB" stroke-width="2.0"/><line x1="502.76" x2="502.76" y1="1339.7" y2="1698.8" stroke="#EBEBEB" stroke-width="2.0"/><line x1="557.39" x2="557.39" y1="1339.7" y2="1698.8" stroke="#EBEBEB" stroke-width="2.0"/><line x1="612.02" x2="612.02" y1="1339.7" y2="1698.8" stroke="#EBEBEB" stroke-width="2.0"/><polyline points="174.98,1467.60 229.61,1536.70 284.24,1457.00 338.87,1529.60 393.50,1521.00 448.13,1495.30 502.76,1515.30 557.39,1512.20 612.02,1435.80" fill="none" stroke="#0000FF" stroke-width="2.6" stroke-linejoin="round"/><polyline points="174.98,1436.30 229.61,1495.30 284.24,1417.20 338.87,1468.00 393.50,1432.50 448.13,1416.90 502.76,1460.00 557.39,1436.30 612.02,1457.00" fill="none" stroke="#FF0000" stroke-width="2.6" stroke-linejoin="round"/><circle cx="174.98" cy="1436.30" r="5.7" fill="#FF0000"/><circle cx="229.61" cy="1495.30" r="5.7" fill="#FF0000"/><circle cx="284.24" cy="1417.20" r="5.7" fill="#FF0000"/><circle cx="338.87" cy="1468.00" r="5.7" fill="#FF0000"/><circle cx="393.50" cy="1432.50" r="5.7" fill="#FF0000"/><circle cx="448.13" cy="1416.90" r="5.7" fill="#FF0000"/><circle cx="502.76" cy="1460.00" r="5.7" fill="#FF0000"/><circle cx="557.39" cy="1436.30" r="5.7" fill="#FF0000"/><circle cx="612.02" cy="1457.00" r="5.7" fill="#FF0000"/><circle cx="174.98" cy="1467.60" r="5.7" fill="#0000FF"/><circle cx="229.61" cy="1536.70" r="5.7" fill="#0000FF"/><circle cx="284.24" cy="1457.00" r="5.7" fill="#0000FF"/><circle cx="338.87" cy="1529.60" r="5.7" fill="#0000FF"/><circle cx="393.50" cy="1521.00" r="5.7" fill="#0000FF"/><circle cx="448.13" cy="1495.30" r="5.7" fill="#0000FF"/><circle cx="502.76" cy="1515.30" r="5.7" fill="#0000FF"/><circle cx="557.39" cy="1512.20" r="5.7" fill="#0000FF"/><circle cx="612.02" cy="1435.80" r="5.7" fill="#0000FF"/><path d="M150.48 1420.20H199.48M174.98 1420.20V1451.70M150.48 1451.70H199.48M205.11 1476.70H254.11M229.61 1476.70V1513.70M205.11 1513.70H254.11M259.74 1391.20H308.74M284.24 1391.20V1443.40M259.74 1443.40H308.74M314.37 1449.90H363.37M338.87 1449.90V1486.20M314.37 1486.20H363.37M369.00 1415.10H418.00M393.50 1415.10V1450.50M369.00 1450.50H418.00M423.63 1383.90H472.63M448.13 1383.90V1449.90M423.63 1449.90H472.63M478.26 1439.60H527.26M502.76 1439.60V1480.80M478.26 1480.80H527.26M532.89 1414.60H581.89M557.39 1414.60V1457.80M532.89 1457.80H581.89M587.52 1419.90H636.52M612.02 1419.90V1494.40M587.52 1494.40H636.52" fill="none" stroke="#FF0000" stroke-width="2.6"/><path d="M150.48 1448.70H199.48M174.98 1448.70V1485.80M150.48 1485.80H199.48M205.11 1515.00H254.11M229.61 1515.00V1558.40M205.11 1558.40H254.11M259.74 1427.80H308.74M284.24 1427.80V1486.50M259.74 1486.50H308.74M314.37 1513.40H363.37M338.87 1513.40V1546.30M314.37 1546.30H363.37M369.00 1505.00H418.00M393.50 1505.00V1536.70M369.00 1536.70H418.00M423.63 1469.10H472.63M448.13 1469.10V1522.10M423.63 1522.10H472.63M478.26 1496.80H527.26M502.76 1496.80V1533.70M478.26 1533.70H527.26M532.89 1491.00H581.89M557.39 1491.00V1533.10M532.89 1533.10H581.89M587.52 1395.00H636.52M612.02 1395.00V1476.70M587.52 1476.70H636.52" fill="none" stroke="#0000FF" stroke-width="2.6"/><rect x="142.82" y="1340.33" width="501.35" height="357.85" fill="none" stroke="#333333" stroke-width="1.25"/><line x1="174.98" x2="174.98" y1="1698.80" y2="1706.00" stroke="#333333" stroke-width="2.0"/><text transform="translate(174.98,1726.90) scale(1,1.03)" font-size="22.2" text-anchor="middle" fill="#4D4D4D">C08</text><line x1="229.61" x2="229.61" y1="1698.80" y2="1706.00" stroke="#333333" stroke-width="2.0"/><text transform="translate(229.61,1726.90) scale(1,1.03)" font-size="22.2" text-anchor="middle" fill="#4D4D4D">C09</text><line x1="284.24" x2="284.24" y1="1698.80" y2="1706.00" stroke="#333333" stroke-width="2.0"/><text transform="translate(284.24,1726.90) scale(1,1.03)" font-size="22.2" text-anchor="middle" fill="#4D4D4D">C10</text><line x1="338.87" x2="338.87" y1="1698.80" y2="1706.00" stroke="#333333" stroke-width="2.0"/><text transform="translate(338.87,1726.90) scale(1,1.03)" font-size="22.2" text-anchor="middle" fill="#4D4D4D">C11</text><line x1="393.50" x2="393.50" y1="1698.80" y2="1706.00" stroke="#333333" stroke-width="2.0"/><text transform="translate(393.50,1726.90) scale(1,1.03)" font-size="22.2" text-anchor="middle" fill="#4D4D4D">C12</text><line x1="448.13" x2="448.13" y1="1698.80" y2="1706.00" stroke="#333333" stroke-width="2.0"/><text transform="translate(448.13,1726.90) scale(1,1.03)" font-size="22.2" text-anchor="middle" fill="#4D4D4D">C13</text><line x1="502.76" x2="502.76" y1="1698.80" y2="1706.00" stroke="#333333" stroke-width="2.0"/><text transform="translate(502.76,1726.90) scale(1,1.03)" font-size="22.2" text-anchor="middle" fill="#4D4D4D">C14</text><line x1="557.39" x2="557.39" y1="1698.80" y2="1706.00" stroke="#333333" stroke-width="2.0"/><text transform="translate(557.39,1726.90) scale(1,1.03)" font-size="22.2" text-anchor="middle" fill="#4D4D4D">C15</text><line x1="612.02" x2="612.02" y1="1698.80" y2="1706.00" stroke="#333333" stroke-width="2.0"/><text transform="translate(612.02,1726.90) scale(1,1.03)" font-size="22.2" text-anchor="middle" fill="#4D4D4D">C16</text><line x1="658.7" x2="1161.3" y1="1642.68" y2="1642.68" stroke="#EBEBEB" stroke-width="1.0"/><line x1="658.7" x2="1161.3" y1="1563.05" y2="1563.05" stroke="#EBEBEB" stroke-width="1.0"/><line x1="658.7" x2="1161.3" y1="1483.43" y2="1483.43" stroke="#EBEBEB" stroke-width="1.0"/><line x1="658.7" x2="1161.3" y1="1403.80" y2="1403.80" stroke="#EBEBEB" stroke-width="1.0"/><line x1="658.7" x2="1161.3" y1="1682.49" y2="1682.49" stroke="#EBEBEB" stroke-width="2.0"/><line x1="658.7" x2="1161.3" y1="1602.87" y2="1602.87" stroke="#EBEBEB" stroke-width="2.0"/><line x1="658.7" x2="1161.3" y1="1523.24" y2="1523.24" stroke="#EBEBEB" stroke-width="2.0"/><line x1="658.7" x2="1161.3" y1="1443.62" y2="1443.62" stroke="#EBEBEB" stroke-width="2.0"/><line x1="658.7" x2="1161.3" y1="1363.99" y2="1363.99" stroke="#EBEBEB" stroke-width="2.0"/><line x1="691.48" x2="691.48" y1="1339.7" y2="1698.8" stroke="#EBEBEB" stroke-width="2.0"/><line x1="746.11" x2="746.11" y1="1339.7" y2="1698.8" stroke="#EBEBEB" stroke-width="2.0"/><line x1="800.74" x2="800.74" y1="1339.7" y2="1698.8" stroke="#EBEBEB" stroke-width="2.0"/><line x1="855.37" x2="855.37" y1="1339.7" y2="1698.8" stroke="#EBEBEB" stroke-width="2.0"/><line x1="910.00" x2="910.00" y1="1339.7" y2="1698.8" stroke="#EBEBEB" stroke-width="2.0"/><line x1="964.63" x2="964.63" y1="1339.7" y2="1698.8" stroke="#EBEBEB" stroke-width="2.0"/><line x1="1019.26" x2="1019.26" y1="1339.7" y2="1698.8" stroke="#EBEBEB" stroke-width="2.0"/><line x1="1073.89" x2="1073.89" y1="1339.7" y2="1698.8" stroke="#EBEBEB" stroke-width="2.0"/><line x1="1128.52" x2="1128.52" y1="1339.7" y2="1698.8" stroke="#EBEBEB" stroke-width="2.0"/><polyline points="691.48,1562.60 746.11,1556.50 800.74,1532.30 855.37,1546.40 910.00,1551.20 964.63,1533.40 1019.26,1520.20 1073.89,1513.10 1128.52,1441.50" fill="none" stroke="#0000FF" stroke-width="2.6" stroke-linejoin="round"/><polyline points="691.48,1490.40 746.11,1505.80 800.74,1465.00 855.37,1503.60 910.00,1430.00 964.63,1488.00 1019.26,1511.10 1073.89,1490.00 1128.52,1458.20" fill="none" stroke="#FF0000" stroke-width="2.6" stroke-linejoin="round"/><circle cx="691.48" cy="1490.40" r="5.7" fill="#FF0000"/><circle cx="746.11" cy="1505.80" r="5.7" fill="#FF0000"/><circle cx="800.74" cy="1465.00" r="5.7" fill="#FF0000"/><circle cx="855.37" cy="1503.60" r="5.7" fill="#FF0000"/><circle cx="910.00" cy="1430.00" r="5.7" fill="#FF0000"/><circle cx="964.63" cy="1488.00" r="5.7" fill="#FF0000"/><circle cx="1019.26" cy="1511.10" r="5.7" fill="#FF0000"/><circle cx="1073.89" cy="1490.00" r="5.7" fill="#FF0000"/><circle cx="1128.52" cy="1458.20" r="5.7" fill="#FF0000"/><circle cx="691.48" cy="1562.60" r="5.7" fill="#0000FF"/><circle cx="746.11" cy="1556.50" r="5.7" fill="#0000FF"/><circle cx="800.74" cy="1532.30" r="5.7" fill="#0000FF"/><circle cx="855.37" cy="1546.40" r="5.7" fill="#0000FF"/><circle cx="910.00" cy="1551.20" r="5.7" fill="#0000FF"/><circle cx="964.63" cy="1533.40" r="5.7" fill="#0000FF"/><circle cx="1019.26" cy="1520.20" r="5.7" fill="#0000FF"/><circle cx="1073.89" cy="1513.10" r="5.7" fill="#0000FF"/><circle cx="1128.52" cy="1441.50" r="5.7" fill="#0000FF"/><path d="M666.98 1475.30H715.98M691.48 1475.30V1505.50M666.98 1505.50H715.98M721.61 1488.90H770.61M746.11 1488.90V1523.20M721.61 1523.20H770.61M776.24 1440.80H825.24M800.74 1440.80V1489.50M776.24 1489.50H825.24M830.87 1488.40H879.87M855.37 1488.40V1518.00M830.87 1518.00H879.87M885.50 1365.10H934.50M910.00 1365.10V1495.00M885.50 1495.00H934.50M940.13 1472.60H989.13M964.63 1472.60V1504.60M940.13 1504.60H989.13M994.76 1493.00H1043.76M1019.26 1493.00V1530.40M994.76 1530.40H1043.76M1049.39 1474.10H1098.39M1073.89 1474.10V1507.40M1049.39 1507.40H1098.39M1104.02 1440.80H1153.02M1128.52 1440.80V1475.30M1104.02 1475.30H1153.02" fill="none" stroke="#FF0000" stroke-width="2.6"/><path d="M666.98 1542.90H715.98M691.48 1542.90V1582.70M666.98 1582.70H715.98M721.61 1536.10H770.61M746.11 1536.10V1577.00M721.61 1577.00H770.61M776.24 1509.20H825.24M800.74 1509.20V1556.50M776.24 1556.50H825.24M830.87 1530.40H879.87M855.37 1530.40V1562.60M830.87 1562.60H879.87M885.50 1503.00H934.50M910.00 1503.00V1599.70M885.50 1599.70H934.50M940.13 1516.10H989.13M964.63 1516.10V1551.20M940.13 1551.20H989.13M994.76 1501.30H1043.76M1019.26 1501.30V1539.10M994.76 1539.10H1043.76M1049.39 1495.00H1098.39M1073.89 1495.00V1531.90M1049.39 1531.90H1098.39M1104.02 1412.00H1153.02M1128.52 1412.00V1470.70M1104.02 1470.70H1153.02" fill="none" stroke="#0000FF" stroke-width="2.6"/><rect x="659.33" y="1340.33" width="501.35" height="357.85" fill="none" stroke="#333333" stroke-width="1.25"/><line x1="691.48" x2="691.48" y1="1698.80" y2="1706.00" stroke="#333333" stroke-width="2.0"/><text transform="translate(691.48,1726.90) scale(1,1.03)" font-size="22.2" text-anchor="middle" fill="#4D4D4D">C08</text><line x1="746.11" x2="746.11" y1="1698.80" y2="1706.00" stroke="#333333" stroke-width="2.0"/><text transform="translate(746.11,1726.90) scale(1,1.03)" font-size="22.2" text-anchor="middle" fill="#4D4D4D">C09</text><line x1="800.74" x2="800.74" y1="1698.80" y2="1706.00" stroke="#333333" stroke-width="2.0"/><text transform="translate(800.74,1726.90) scale(1,1.03)" font-size="22.2" text-anchor="middle" fill="#4D4D4D">C10</text><line x1="855.37" x2="855.37" y1="1698.80" y2="1706.00" stroke="#333333" stroke-width="2.0"/><text transform="translate(855.37,1726.90) scale(1,1.03)" font-size="22.2" text-anchor="middle" fill="#4D4D4D">C11</text><line x1="910.00" x2="910.00" y1="1698.80" y2="1706.00" stroke="#333333" stroke-width="2.0"/><text transform="translate(910.00,1726.90) scale(1,1.03)" font-size="22.2" text-anchor="middle" fill="#4D4D4D">C12</text><line x1="964.63" x2="964.63" y1="1698.80" y2="1706.00" stroke="#333333" stroke-width="2.0"/><text transform="translate(964.63,1726.90) scale(1,1.03)" font-size="22.2" text-anchor="middle" fill="#4D4D4D">C13</text><line x1="1019.26" x2="1019.26" y1="1698.80" y2="1706.00" stroke="#333333" stroke-width="2.0"/><text transform="translate(1019.26,1726.90) scale(1,1.03)" font-size="22.2" text-anchor="middle" fill="#4D4D4D">C14</text><line x1="1073.89" x2="1073.89" y1="1698.80" y2="1706.00" stroke="#333333" stroke-width="2.0"/><text transform="translate(1073.89,1726.90) scale(1,1.03)" font-size="22.2" text-anchor="middle" fill="#4D4D4D">C15</text><line x1="1128.52" x2="1128.52" y1="1698.80" y2="1706.00" stroke="#333333" stroke-width="2.0"/><text transform="translate(1128.52,1726.90) scale(1,1.03)" font-size="22.2" text-anchor="middle" fill="#4D4D4D">C16</text><line x1="1175.2" x2="1677.9" y1="1642.68" y2="1642.68" stroke="#EBEBEB" stroke-width="1.0"/><line x1="1175.2" x2="1677.9" y1="1563.05" y2="1563.05" stroke="#EBEBEB" stroke-width="1.0"/><line x1="1175.2" x2="1677.9" y1="1483.43" y2="1483.43" stroke="#EBEBEB" stroke-width="1.0"/><line x1="1175.2" x2="1677.9" y1="1403.80" y2="1403.80" stroke="#EBEBEB" stroke-width="1.0"/><line x1="1175.2" x2="1677.9" y1="1682.49" y2="1682.49" stroke="#EBEBEB" stroke-width="2.0"/><line x1="1175.2" x2="1677.9" y1="1602.87" y2="1602.87" stroke="#EBEBEB" stroke-width="2.0"/><line x1="1175.2" x2="1677.9" y1="1523.24" y2="1523.24" stroke="#EBEBEB" stroke-width="2.0"/><line x1="1175.2" x2="1677.9" y1="1443.62" y2="1443.62" stroke="#EBEBEB" stroke-width="2.0"/><line x1="1175.2" x2="1677.9" y1="1363.99" y2="1363.99" stroke="#EBEBEB" stroke-width="2.0"/><line x1="1207.98" x2="1207.98" y1="1339.7" y2="1698.8" stroke="#EBEBEB" stroke-width="2.0"/><line x1="1262.63" x2="1262.63" y1="1339.7" y2="1698.8" stroke="#EBEBEB" stroke-width="2.0"/><line x1="1317.27" x2="1317.27" y1="1339.7" y2="1698.8" stroke="#EBEBEB" stroke-width="2.0"/><line x1="1371.91" x2="1371.91" y1="1339.7" y2="1698.8" stroke="#EBEBEB" stroke-width="2.0"/><line x1="1426.55" x2="1426.55" y1="1339.7" y2="1698.8" stroke="#EBEBEB" stroke-width="2.0"/><line x1="1481.19" x2="1481.19" y1="1339.7" y2="1698.8" stroke="#EBEBEB" stroke-width="2.0"/><line x1="1535.83" x2="1535.83" y1="1339.7" y2="1698.8" stroke="#EBEBEB" stroke-width="2.0"/><line x1="1590.47" x2="1590.47" y1="1339.7" y2="1698.8" stroke="#EBEBEB" stroke-width="2.0"/><line x1="1645.12" x2="1645.12" y1="1339.7" y2="1698.8" stroke="#EBEBEB" stroke-width="2.0"/><polyline points="1207.98,1566.70 1262.63,1572.00 1317.27,1579.60 1371.91,1561.40 1426.55,1566.70 1481.19,1550.10 1535.83,1543.20 1590.47,1522.10 1645.12,1469.60" fill="none" stroke="#0000FF" stroke-width="2.6" stroke-linejoin="round"/><polyline points="1207.98,1487.30 1262.63,1508.40 1317.27,1522.50 1371.91,1497.90 1426.55,1447.90 1481.19,1484.20 1535.83,1480.50 1590.47,1461.10 1645.12,1428.70" fill="none" stroke="#FF0000" stroke-width="2.6" stroke-linejoin="round"/><circle cx="1207.98" cy="1487.30" r="5.7" fill="#FF0000"/><circle cx="1262.63" cy="1508.40" r="5.7" fill="#FF0000"/><circle cx="1317.27" cy="1522.50" r="5.7" fill="#FF0000"/><circle cx="1371.91" cy="1497.90" r="5.7" fill="#FF0000"/><circle cx="1426.55" cy="1447.90" r="5.7" fill="#FF0000"/><circle cx="1481.19" cy="1484.20" r="5.7" fill="#FF0000"/><circle cx="1535.83" cy="1480.50" r="5.7" fill="#FF0000"/><circle cx="1590.47" cy="1461.10" r="5.7" fill="#FF0000"/><circle cx="1645.12" cy="1428.70" r="5.7" fill="#FF0000"/><circle cx="1207.98" cy="1566.70" r="5.7" fill="#0000FF"/><circle cx="1262.63" cy="1572.00" r="5.7" fill="#0000FF"/><circle cx="1317.27" cy="1579.60" r="5.7" fill="#0000FF"/><circle cx="1371.91" cy="1561.40" r="5.7" fill="#0000FF"/><circle cx="1426.55" cy="1566.70" r="5.7" fill="#0000FF"/><circle cx="1481.19" cy="1550.10" r="5.7" fill="#0000FF"/><circle cx="1535.83" cy="1543.20" r="5.7" fill="#0000FF"/><circle cx="1590.47" cy="1522.10" r="5.7" fill="#0000FF"/><circle cx="1645.12" cy="1469.60" r="5.7" fill="#0000FF"/><path d="M1183.48 1471.40H1232.48M1207.98 1471.40V1503.20M1183.48 1503.20H1232.48M1238.13 1490.30H1287.13M1262.63 1490.30V1526.60M1238.13 1526.60H1287.13M1292.77 1502.80H1341.77M1317.27 1502.80V1541.70M1292.77 1541.70H1341.77M1347.41 1482.70H1396.41M1371.91 1482.70V1512.50M1347.41 1512.50H1396.41M1402.05 1424.80H1451.05M1426.55 1424.80V1471.10M1402.05 1471.10H1451.05M1456.69 1467.60H1505.69M1481.19 1467.60V1500.90M1456.69 1500.90H1505.69M1511.33 1459.00H1560.33M1535.83 1459.00V1501.90M1511.33 1501.90H1560.33M1565.97 1419.60H1614.97M1590.47 1419.60V1502.80M1565.97 1502.80H1614.97M1620.62 1399.50H1669.62M1645.12 1399.50V1457.50M1620.62 1457.50H1669.62" fill="none" stroke="#FF0000" stroke-width="2.6"/><path d="M1183.48 1549.30H1232.48M1207.98 1549.30V1584.90M1183.48 1584.90H1232.48M1238.13 1553.40H1287.13M1262.63 1553.40V1591.70M1238.13 1591.70H1287.13M1292.77 1559.40H1341.77M1317.27 1559.40V1599.70M1292.77 1599.70H1341.77M1347.41 1547.00H1396.41M1371.91 1547.00V1575.80M1347.41 1575.80H1396.41M1402.05 1547.80H1451.05M1426.55 1547.80V1586.40M1402.05 1586.40H1451.05M1456.69 1533.10H1505.69M1481.19 1533.10V1567.50M1456.69 1567.50H1505.69M1511.33 1523.10H1560.33M1535.83 1523.10V1563.40M1511.33 1563.40H1560.33M1565.97 1489.80H1614.97M1590.47 1489.80V1554.60M1565.97 1554.60H1614.97M1620.62 1444.90H1669.62M1645.12 1444.90V1493.80M1620.62 1493.80H1669.62" fill="none" stroke="#0000FF" stroke-width="2.6"/><rect x="1175.83" y="1340.33" width="501.45" height="357.85" fill="none" stroke="#333333" stroke-width="1.25"/><line x1="1207.98" x2="1207.98" y1="1698.80" y2="1706.00" stroke="#333333" stroke-width="2.0"/><text transform="translate(1207.98,1726.90) scale(1,1.03)" font-size="22.2" text-anchor="middle" fill="#4D4D4D">C08</text><line x1="1262.63" x2="1262.63" y1="1698.80" y2="1706.00" stroke="#333333" stroke-width="2.0"/><text transform="translate(1262.63,1726.90) scale(1,1.03)" font-size="22.2" text-anchor="middle" fill="#4D4D4D">C09</text><line x1="1317.27" x2="1317.27" y1="1698.80" y2="1706.00" stroke="#333333" stroke-width="2.0"/><text transform="translate(1317.27,1726.90) scale(1,1.03)" font-size="22.2" text-anchor="middle" fill="#4D4D4D">C10</text><line x1="1371.91" x2="1371.91" y1="1698.80" y2="1706.00" stroke="#333333" stroke-width="2.0"/><text transform="translate(1371.91,1726.90) scale(1,1.03)" font-size="22.2" text-anchor="middle" fill="#4D4D4D">C11</text><line x1="1426.55" x2="1426.55" y1="1698.80" y2="1706.00" stroke="#333333" stroke-width="2.0"/><text transform="translate(1426.55,1726.90) scale(1,1.03)" font-size="22.2" text-anchor="middle" fill="#4D4D4D">C12</text><line x1="1481.19" x2="1481.19" y1="1698.80" y2="1706.00" stroke="#333333" stroke-width="2.0"/><text transform="translate(1481.19,1726.90) scale(1,1.03)" font-size="22.2" text-anchor="middle" fill="#4D4D4D">C13</text><line x1="1535.83" x2="1535.83" y1="1698.80" y2="1706.00" stroke="#333333" stroke-width="2.0"/><text transform="translate(1535.83,1726.90) scale(1,1.03)" font-size="22.2" text-anchor="middle" fill="#4D4D4D">C14</text><line x1="1590.47" x2="1590.47" y1="1698.80" y2="1706.00" stroke="#333333" stroke-width="2.0"/><text transform="translate(1590.47,1726.90) scale(1,1.03)" font-size="22.2" text-anchor="middle" fill="#4D4D4D">C15</text><line x1="1645.12" x2="1645.12" y1="1698.80" y2="1706.00" stroke="#333333" stroke-width="2.0"/><text transform="translate(1645.12,1726.90) scale(1,1.03)" font-size="22.2" text-anchor="middle" fill="#4D4D4D">C16</text><rect x="1677.90" y="1339.70" width="44.40" height="359.10" fill="#D9D9D9"/><rect x="1678.53" y="1340.33" width="43.15" height="357.85" fill="none" stroke="#333333" stroke-width="1.25"/><text transform="translate(1692.20,1519.25) rotate(90)" font-size="22.2" text-anchor="middle" fill="#1A1A1A">120</text><line x1="135.00" x2="142.20" y1="1682.49" y2="1682.49" stroke="#333333" stroke-width="2.0"/><text transform="translate(129.70,1690.09)" font-size="22.2" text-anchor="end" fill="#4D4D4D">70</text><line x1="135.00" x2="142.20" y1="1602.87" y2="1602.87" stroke="#333333" stroke-width="2.0"/><text transform="translate(129.70,1610.46)" font-size="22.2" text-anchor="end" fill="#4D4D4D">80</text><line x1="135.00" x2="142.20" y1="1523.24" y2="1523.24" stroke="#333333" stroke-width="2.0"/><text transform="translate(129.70,1530.84)" font-size="22.2" text-anchor="end" fill="#4D4D4D">90</text><line x1="135.00" x2="142.20" y1="1443.62" y2="1443.62" stroke="#333333" stroke-width="2.0"/><text transform="translate(129.70,1451.21)" font-size="22.2" text-anchor="end" fill="#4D4D4D">100</text><line x1="135.00" x2="142.20" y1="1363.99" y2="1363.99" stroke="#333333" stroke-width="2.0"/><text transform="translate(129.70,1371.59)" font-size="22.2" text-anchor="end" fill="#4D4D4D">110</text><text transform="translate(77.60,1146.25) rotate(-90)" font-size="27.8" text-anchor="middle" fill="#000">Mean relative intensity (%)</text><text transform="translate(910.05,1760.20)" font-size="27.8" text-anchor="middle" fill="#000">Carbon chain length</text><line x1="721.0" x2="755.2" y1="1828.9" y2="1828.9" stroke="#0000FF" stroke-width="2.6"/><circle cx="738.4" cy="1828.9" r="5.7" fill="#0000FF"/><text transform="translate(773.30,1836.40)" font-size="22.2" fill="#000">Dry ice</text><line x1="861.9" x2="896.0" y1="1828.9" y2="1828.9" stroke="#FF0000" stroke-width="2.6"/><circle cx="879.0" cy="1828.9" r="5.7" fill="#FF0000"/><text transform="translate(913.80,1836.40)" font-size="22.2" fill="#000">Room temperature</text></svg>
</body></html>
